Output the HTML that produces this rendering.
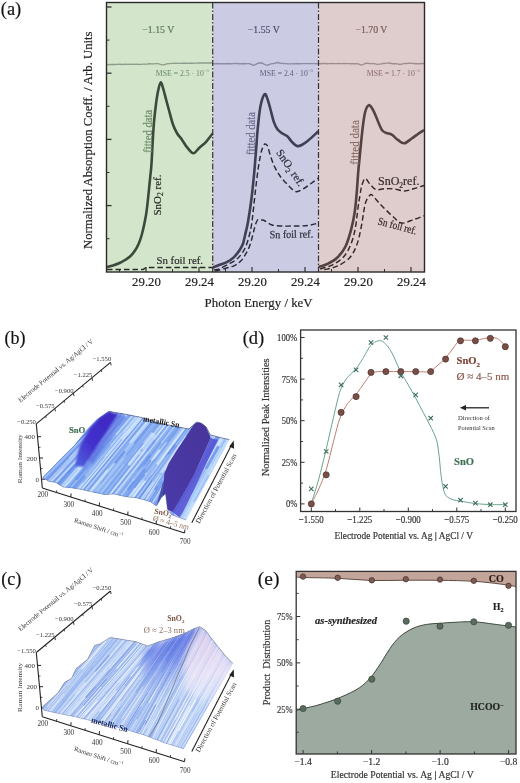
<!DOCTYPE html>
<html><head><meta charset="utf-8"><style>
html,body{margin:0;padding:0;background:#fff;}
svg{display:block;}
text{font-family:"Liberation Serif", "DejaVu Serif", serif;stroke-width:0.18px;paint-order:stroke;}
</style></head><body>
<svg width="520" height="783" viewBox="0 0 520 783">
<rect width="520" height="783" fill="#fff"/>
<rect x="106.5" y="2.5" width="106.19999999999999" height="269.5" fill="#d3e5ca"/>
<rect x="212.7" y="2.5" width="105.80000000000001" height="269.5" fill="#cbcbe3"/>
<rect x="318.5" y="2.5" width="106.0" height="269.5" fill="#dfcccd"/>
<line x1="106.5" y1="7" x2="111.5" y2="7" stroke="#333" stroke-width="1.3"/>
<line x1="106.5" y1="73.2" x2="111.5" y2="73.2" stroke="#333" stroke-width="1.3"/>
<line x1="106.5" y1="139.4" x2="111.5" y2="139.4" stroke="#333" stroke-width="1.3"/>
<line x1="106.5" y1="205.6" x2="111.5" y2="205.6" stroke="#333" stroke-width="1.3"/>
<line x1="106.5" y1="40.1" x2="109.5" y2="40.1" stroke="#333" stroke-width="1"/>
<line x1="106.5" y1="106.3" x2="109.5" y2="106.3" stroke="#333" stroke-width="1"/>
<line x1="106.5" y1="172.5" x2="109.5" y2="172.5" stroke="#333" stroke-width="1"/>
<line x1="106.5" y1="238.7" x2="109.5" y2="238.7" stroke="#333" stroke-width="1"/>
<line x1="146" y1="272" x2="146" y2="267" stroke="#333" stroke-width="1.2"/>
<line x1="199" y1="272" x2="199" y2="267" stroke="#333" stroke-width="1.2"/>
<line x1="119.5" y1="272" x2="119.5" y2="269" stroke="#333" stroke-width="1"/>
<line x1="172.5" y1="272" x2="172.5" y2="269" stroke="#333" stroke-width="1"/>
<text x="146.5" y="286" font-size="12.4" fill="#222" text-anchor="middle" font-weight="normal" font-style="normal" textLength="28.8" lengthAdjust="spacingAndGlyphs" stroke="#222">29.20</text>
<text x="199.5" y="286" font-size="12.4" fill="#222" text-anchor="middle" font-weight="normal" font-style="normal" textLength="28.8" lengthAdjust="spacingAndGlyphs" stroke="#222">29.24</text>
<line x1="252" y1="272" x2="252" y2="267" stroke="#333" stroke-width="1.2"/>
<line x1="305" y1="272" x2="305" y2="267" stroke="#333" stroke-width="1.2"/>
<line x1="225.5" y1="272" x2="225.5" y2="269" stroke="#333" stroke-width="1"/>
<line x1="278.5" y1="272" x2="278.5" y2="269" stroke="#333" stroke-width="1"/>
<text x="252.5" y="286" font-size="12.4" fill="#222" text-anchor="middle" font-weight="normal" font-style="normal" textLength="28.8" lengthAdjust="spacingAndGlyphs" stroke="#222">29.20</text>
<text x="305.5" y="286" font-size="12.4" fill="#222" text-anchor="middle" font-weight="normal" font-style="normal" textLength="28.8" lengthAdjust="spacingAndGlyphs" stroke="#222">29.24</text>
<line x1="358" y1="272" x2="358" y2="267" stroke="#333" stroke-width="1.2"/>
<line x1="411" y1="272" x2="411" y2="267" stroke="#333" stroke-width="1.2"/>
<line x1="331.5" y1="272" x2="331.5" y2="269" stroke="#333" stroke-width="1"/>
<line x1="384.5" y1="272" x2="384.5" y2="269" stroke="#333" stroke-width="1"/>
<text x="358.5" y="286" font-size="12.4" fill="#222" text-anchor="middle" font-weight="normal" font-style="normal" textLength="28.8" lengthAdjust="spacingAndGlyphs" stroke="#222">29.20</text>
<text x="411.5" y="286" font-size="12.4" fill="#222" text-anchor="middle" font-weight="normal" font-style="normal" textLength="28.8" lengthAdjust="spacingAndGlyphs" stroke="#222">29.24</text>
<text x="258.6" y="307" font-size="13" fill="#222" text-anchor="middle" font-weight="normal" font-style="normal" textLength="108" lengthAdjust="spacingAndGlyphs" stroke="#222">Photon Energy / keV</text>
<text x="92.5" y="140.2" font-size="13" fill="#222" text-anchor="middle" font-weight="normal" font-style="normal" transform="rotate(-90 92.5 140.2)" textLength="217.5" lengthAdjust="spacingAndGlyphs" stroke="#222">Normalized Absorption Coeff. / Arb. Units</text>
<text x="0.8" y="15.1" font-size="19" fill="#111" text-anchor="start" font-weight="normal" font-style="normal" textLength="20.4" lengthAdjust="spacingAndGlyphs" stroke="#111">(a)</text>
<path d="M107.0,64.5 L109.0,64.6 L111.1,64.5 L113.1,64.5 L115.1,64.5 L117.2,64.3 L119.2,64.2 L121.2,64.5 L123.3,64.3 L125.3,64.2 L127.3,64.4 L129.4,64.2 L131.4,64.3 L133.4,64.2 L135.5,64.3 L137.5,64.2 L139.5,64.4 L141.6,64.4 L143.6,64.2 L145.6,64.1 L147.7,64.0 L149.7,63.8 L151.7,63.9 L153.8,63.8 L155.8,63.7 L157.8,63.6 L159.8,64.1 L161.9,64.8 L163.9,64.9 L165.9,64.1 L168.0,63.6 L170.0,63.6 L172.0,63.3 L174.1,63.3 L176.1,63.1 L178.1,63.4 L180.2,63.4 L182.2,63.2 L184.2,63.2 L186.3,63.2 L188.3,63.4 L190.3,63.2 L192.4,63.2 L194.4,63.1 L196.4,63.1 L198.5,63.0 L200.5,63.0 L202.5,63.0 L204.6,63.0 L206.6,63.0 L208.6,62.9 L210.7,63.0 L212.7,62.9" fill="none" stroke="#8f9c8c" stroke-width="1.35"/>
<path d="M212.7,63.7 L214.7,63.7 L216.8,63.5 L218.8,63.7 L220.8,63.7 L222.9,63.7 L224.9,63.6 L226.9,63.7 L229.0,63.5 L231.0,63.7 L233.0,63.6 L235.1,63.5 L237.1,63.5 L239.1,63.7 L241.2,63.7 L243.2,63.5 L245.3,63.7 L247.3,63.6 L249.3,63.7 L251.4,64.5 L253.4,65.3 L255.4,64.7 L257.5,63.5 L259.5,63.0 L261.5,62.8 L263.6,63.8 L265.6,64.8 L267.6,65.2 L269.7,64.4 L271.7,63.7 L273.7,63.6 L275.8,62.9 L277.8,62.5 L279.8,63.0 L281.9,63.3 L283.9,63.5 L285.9,63.6 L288.0,63.8 L290.0,63.8 L292.1,63.7 L294.1,63.8 L296.1,63.5 L298.2,63.7 L300.2,63.7 L302.2,63.6 L304.3,63.6 L306.3,63.6 L308.3,63.6 L310.4,63.6 L312.4,63.6 L314.4,63.6 L316.5,63.7 L318.5,63.6" fill="none" stroke="#8c8ca6" stroke-width="1.35"/>
<path d="M318.5,63.6 L320.5,63.7 L322.6,63.5 L324.6,63.5 L326.6,63.7 L328.6,63.6 L330.7,63.6 L332.7,63.5 L334.7,63.6 L336.8,63.6 L338.8,63.5 L340.8,63.6 L342.8,63.6 L344.9,63.5 L346.9,63.6 L348.9,63.6 L351.0,63.7 L353.0,63.6 L355.0,63.7 L357.0,63.7 L359.1,64.1 L361.1,65.0 L363.1,64.6 L365.2,63.5 L367.2,63.1 L369.2,63.5 L371.2,63.6 L373.3,63.6 L375.3,63.9 L377.3,64.3 L379.4,64.2 L381.4,63.8 L383.4,63.5 L385.5,63.3 L387.5,63.1 L389.5,63.0 L391.5,63.5 L393.6,63.7 L395.6,63.6 L397.6,63.9 L399.7,64.5 L401.7,64.1 L403.7,63.7 L405.7,63.5 L407.8,63.4 L409.8,63.1 L411.8,63.3 L413.9,63.5 L415.9,63.7 L417.9,63.6 L419.9,63.7 L422.0,63.5 L424.0,63.6" fill="none" stroke="#a08c8c" stroke-width="1.35"/>
<text x="158.3" y="32.5" font-size="9.8" fill="#5d7a5a" text-anchor="middle" font-weight="normal" font-style="normal" stroke="#5d7a5a">−1.15 V</text>
<text x="263.8" y="32.5" font-size="9.8" fill="#4d4d6e" text-anchor="middle" font-weight="normal" font-style="normal" stroke="#4d4d6e">−1.55 V</text>
<text x="371.4" y="32.5" font-size="9.8" fill="#7d5d5d" text-anchor="middle" font-weight="normal" font-style="normal" stroke="#7d5d5d">−1.70 V</text>
<text x="155.8" y="75.8" font-size="8.2" fill="#6a8a68" textLength="53" lengthAdjust="spacingAndGlyphs">MSE = 2.5 · 10<tspan dy="-3.5" font-size="5">−5</tspan></text>
<text x="259.8" y="75.8" font-size="8.2" fill="#5e5e80" textLength="53" lengthAdjust="spacingAndGlyphs">MSE = 2.4 · 10<tspan dy="-3.5" font-size="5">−5</tspan></text>
<text x="366.8" y="75.8" font-size="8.2" fill="#8a6a6a" textLength="53" lengthAdjust="spacingAndGlyphs">MSE = 1.7 · 10<tspan dy="-3.5" font-size="5">−5</tspan></text>
<path d="M107.0,267.0 C108.0,266.8 111.0,266.1 113.0,265.5 C115.0,264.9 117.0,264.2 119.0,263.3 C121.0,262.4 123.1,261.2 125.0,260.0 C126.9,258.8 128.6,257.9 130.3,256.3 C132.0,254.7 133.6,252.6 135.0,250.5 C136.4,248.4 137.6,246.3 138.7,243.7 C139.8,241.1 140.8,238.3 141.7,235.0 C142.6,231.7 143.6,227.3 144.3,224.0 C145.0,220.7 145.5,217.8 146.0,215.0 C146.5,212.2 146.7,210.3 147.1,207.1 C147.5,203.9 147.9,199.5 148.3,196.0 C148.7,192.5 149.0,189.5 149.3,186.0 C149.7,182.5 150.1,178.5 150.4,175.0 C150.8,171.5 151.1,170.0 151.4,165.0 C151.8,160.0 152.1,152.2 152.5,145.0 C152.9,137.8 153.4,128.8 154.0,122.0 C154.6,115.2 155.3,109.3 156.0,104.0 C156.7,98.7 157.5,93.6 158.3,90.0 C159.1,86.4 160.0,82.5 160.8,82.3 C161.6,82.1 162.4,86.0 163.3,89.0 C164.2,92.0 165.2,96.3 166.2,100.0 C167.2,103.7 168.1,106.9 169.2,111.0 C170.3,115.1 171.7,120.8 173.0,124.5 C174.3,128.2 175.4,130.4 176.9,133.0 C178.4,135.6 180.4,137.5 182.1,139.9 C183.8,142.3 185.4,145.5 187.3,147.7 C189.2,149.9 191.4,153.3 193.4,153.3 C195.4,153.3 197.2,149.6 199.4,147.7 C201.6,145.8 204.1,144.0 206.3,141.6 C208.5,139.2 211.6,134.8 212.7,133.5" fill="none" stroke="#3c4a3c" stroke-width="2.6" stroke-linejoin="round"/>
<path d="M107,269.5 L143,269.5 L146,267.5 L212.7,267.5" fill="none" stroke="#2a2a2a" stroke-width="1.45" stroke-dasharray="5.5,3"/>
<text x="151.6" y="131.2" font-size="13.5" fill="#6c8a68" text-anchor="middle" font-weight="normal" font-style="normal" transform="rotate(-90 151.6 131.2)" textLength="43" lengthAdjust="spacingAndGlyphs" stroke="#6c8a68">fitted data</text>
<text x="160.8" y="195" font-size="11" fill="#2a2a2a" text-anchor="middle" transform="rotate(-90 160.8 195)" stroke="#2a2a2a">SnO<tspan dy="2.5" font-size="7.5">2</tspan><tspan dy="-2.5"> ref.</tspan></text>
<text x="156.5" y="263.5" font-size="10.8" fill="#2a2a2a" text-anchor="start" font-weight="normal" font-style="normal" stroke="#2a2a2a">Sn foil ref.</text>
<path d="M212.7,267.5 C213.8,267.1 217.2,265.7 219.6,264.8 C222.0,263.9 224.9,263.2 227.3,261.9 C229.7,260.6 232.1,258.9 234.0,257.1 C235.9,255.3 237.4,253.4 238.8,251.3 C240.2,249.2 241.6,247.3 242.7,244.6 C243.8,241.9 244.2,238.8 245.1,235.0 C246.0,231.2 247.0,227.8 248.0,222.0 C249.0,216.2 250.3,207.8 251.3,200.0 C252.3,192.2 253.2,183.3 254.0,175.0 C254.8,166.7 255.5,157.5 256.1,150.0 C256.7,142.5 256.9,137.3 257.6,130.0 C258.3,122.7 259.3,112.0 260.5,106.0 C261.7,100.0 263.5,95.5 264.6,94.2 C265.7,93.0 266.4,96.3 267.3,98.5 C268.2,100.7 268.9,103.6 270.0,107.5 C271.1,111.4 272.5,118.2 273.8,121.9 C275.1,125.6 276.2,127.7 277.7,129.6 C279.1,131.5 280.9,132.4 282.5,133.5 C284.1,134.6 285.7,134.9 287.3,136.3 C288.9,137.7 290.5,140.5 292.1,142.1 C293.7,143.7 295.3,145.5 296.9,146.0 C298.5,146.5 299.8,146.0 301.7,145.0 C303.6,144.0 305.7,142.5 308.5,140.2 C311.3,137.9 316.8,132.7 318.5,131.2" fill="none" stroke="#404054" stroke-width="2.6" stroke-linejoin="round"/>
<path d="M214.0,270.0 C214.9,269.8 217.1,269.7 219.6,268.7 C222.1,267.7 226.3,265.4 229.2,263.8 C232.1,262.2 234.7,260.9 236.9,259.0 C239.2,257.1 241.1,254.7 242.7,252.3 C244.3,249.9 245.4,247.5 246.5,244.6 C247.6,241.7 248.6,238.3 249.4,235.0 C250.2,231.7 250.9,228.5 251.5,225.0 C252.1,221.5 252.2,219.6 252.9,213.8 C253.6,208.0 254.7,197.3 255.5,190.0 C256.4,182.7 257.2,175.8 258.0,170.0 C258.8,164.2 259.8,158.7 260.5,155.0 C261.2,151.3 261.8,149.8 262.5,148.0 C263.2,146.2 264.0,144.3 264.8,144.0 C265.6,143.7 266.6,144.0 267.5,146.0 C268.4,148.0 269.3,152.5 270.5,156.0 C271.7,159.5 273.0,163.5 274.6,166.8 C276.2,170.1 277.9,173.1 280.0,176.0 C282.1,178.9 284.4,181.4 287.0,184.0 C289.6,186.6 293.0,190.7 295.7,191.5 C298.4,192.3 300.4,190.3 303.0,189.0 C305.6,187.7 308.4,185.3 311.0,183.5 C313.6,181.7 317.2,178.9 318.5,178.0" fill="none" stroke="#2a2a35" stroke-width="1.45" stroke-dasharray="5.5,3"/>
<path d="M215.0,271.0 C215.9,270.8 217.4,270.5 220.6,269.6 C223.8,268.7 230.6,267.2 234.0,265.8 C237.4,264.4 238.9,262.9 240.8,261.0 C242.7,259.1 244.2,256.6 245.6,254.2 C247.0,251.8 248.3,249.4 249.4,246.5 C250.5,243.6 251.5,240.1 252.3,237.0 C253.2,233.9 253.7,230.7 254.5,228.0 C255.3,225.3 256.1,222.4 256.9,221.0 C257.6,219.6 258.1,219.7 259.0,219.5 C259.9,219.3 261.0,219.8 262.0,220.0 C263.0,220.2 263.3,220.2 265.0,221.0 C266.7,221.8 269.2,224.2 272.0,225.0 C274.8,225.8 278.2,225.8 282.0,226.0 C285.8,226.2 290.7,226.1 295.0,226.0 C299.3,225.9 304.1,226.0 308.0,225.5 C311.9,225.0 316.8,223.4 318.5,223.0" fill="none" stroke="#2a2a35" stroke-width="1.45" stroke-dasharray="5.5,3"/>
<text x="254.8" y="133.5" font-size="13.5" fill="#6a6a8a" text-anchor="middle" font-weight="normal" font-style="normal" transform="rotate(-90 254.8 133.5)" textLength="43" lengthAdjust="spacingAndGlyphs" stroke="#6a6a8a">fitted data</text>
<text x="275.8" y="152.5" font-size="11.2" fill="#2a2a35" transform="rotate(56 275.8 152.5)" stroke="#2a2a35">SnO<tspan dy="2.5" font-size="7.5">2</tspan><tspan dy="-2.5"> ref.</tspan></text>
<text x="269.7" y="238.3" font-size="11" fill="#2a2a35" text-anchor="start" font-weight="normal" font-style="normal" transform="rotate(-1 269.7 238.3)" textLength="43.5" lengthAdjust="spacingAndGlyphs" stroke="#2a2a35">Sn foil ref.</text>
<path d="M318.5,267.0 C319.9,266.5 324.1,265.6 327.2,264.0 C330.3,262.4 334.1,260.6 337.1,257.7 C340.2,254.8 343.2,251.2 345.5,246.5 C347.8,241.8 349.6,235.2 351.1,229.6 C352.6,224.0 353.7,218.9 354.6,212.8 C355.5,206.7 356.1,200.2 356.7,193.1 C357.3,186.0 357.9,175.5 358.4,170.0 C358.8,164.5 358.8,166.4 359.4,159.9 C360.0,153.4 361.4,139.0 362.3,131.1 C363.2,123.2 364.0,116.6 365.1,112.3 C366.2,108.0 367.6,105.6 368.8,105.1 C370.0,104.5 371.3,107.1 372.5,109.0 C373.7,110.9 374.5,113.2 376.0,116.6 C377.5,120.0 380.0,126.9 381.7,129.6 C383.4,132.3 384.3,132.0 386.0,132.8 C387.7,133.7 389.9,133.5 391.8,134.7 C393.7,135.8 395.6,138.3 397.6,139.7 C399.7,141.1 401.7,143.5 404.1,143.3 C406.5,143.1 409.7,139.9 412.0,138.3 C414.3,136.8 416.0,135.4 418.0,134.0 C420.0,132.6 423.0,130.7 424.0,130.0" fill="none" stroke="#524242" stroke-width="2.6" stroke-linejoin="round"/>
<path d="M320.2,269.0 C322.3,268.3 328.9,266.8 332.9,264.7 C336.9,262.6 341.1,259.8 344.1,256.3 C347.1,252.8 349.2,248.4 351.1,243.7 C353.0,239.0 354.1,234.3 355.3,228.2 C356.5,222.1 357.3,212.6 358.1,207.1 C358.9,201.6 359.4,198.5 360.0,195.0 C360.6,191.5 360.8,188.8 361.7,186.0 C362.6,183.2 363.7,178.7 365.1,178.4 C366.5,178.1 368.4,182.6 370.2,184.4 C372.0,186.2 373.6,188.8 376.0,189.5 C378.4,190.2 381.7,188.9 384.6,188.8 C387.5,188.7 389.9,188.5 393.3,188.8 C396.7,189.2 401.4,190.9 404.8,190.9 C408.2,190.9 410.3,189.7 413.5,188.8 C416.7,187.9 422.2,186.1 424.0,185.5" fill="none" stroke="#352828" stroke-width="1.45" stroke-dasharray="5.5,3"/>
<path d="M324.4,269.7 C326.5,269.1 332.9,268.2 337.1,266.2 C341.3,264.2 346.4,261.2 349.7,257.7 C353.0,254.2 354.8,250.0 356.7,245.1 C358.6,240.2 359.7,234.5 361.0,228.2 C362.3,221.9 363.6,211.8 364.5,207.1 C365.4,202.4 365.6,202.2 366.6,200.1 C367.7,198.0 369.6,195.0 370.8,194.5 C372.0,194.0 372.6,195.6 374.0,197.0 C375.4,198.4 377.0,200.8 379.0,203.0 C381.0,205.2 383.5,207.6 386.0,210.0 C388.5,212.4 391.4,215.3 394.0,217.5 C396.6,219.7 398.6,222.8 401.9,223.1 C405.1,223.4 409.8,220.8 413.5,219.6 C417.2,218.4 422.2,216.4 424.0,215.8" fill="none" stroke="#352828" stroke-width="1.45" stroke-dasharray="5.5,3"/>
<text x="359.4" y="142.4" font-size="13.5" fill="#8a6a66" text-anchor="middle" font-weight="normal" font-style="normal" transform="rotate(-90 359.4 142.4)" textLength="44.5" lengthAdjust="spacingAndGlyphs" stroke="#8a6a66">fitted data</text>
<text x="378" y="185.3" font-size="12" fill="#352828" stroke="#352828">SnO<tspan dy="2.5" font-size="7.5">2</tspan><tspan dy="-2.5">ref.</tspan></text>
<text x="377.2" y="224.2" font-size="11" fill="#352828" text-anchor="start" font-weight="normal" font-style="normal" transform="rotate(15 377.2 224.2)" textLength="40" lengthAdjust="spacingAndGlyphs" stroke="#352828">Sn foil ref.</text>
<line x1="212.7" y1="2.5" x2="212.7" y2="272" stroke="#333" stroke-width="1.2" stroke-dasharray="6,2,1.5,2"/>
<line x1="318.5" y1="2.5" x2="318.5" y2="272" stroke="#333" stroke-width="1.2" stroke-dasharray="6,2,1.5,2"/>
<rect x="106.5" y="2.5" width="318.0" height="269.5" fill="none" stroke="#2a2a2a" stroke-width="1.4"/>
<rect x="300.6" y="330" width="215.39999999999998" height="181.5" fill="#fff" stroke="none"/>
<line x1="300.6" y1="503.9" x2="304.6" y2="503.9" stroke="#333" stroke-width="1"/>
<text x="297.3" y="507.4" font-size="9.9" fill="#333" text-anchor="end" font-weight="normal" font-style="normal" textLength="11.4" lengthAdjust="spacingAndGlyphs" stroke="#333">0%</text>
<line x1="300.6" y1="462.3" x2="304.6" y2="462.3" stroke="#333" stroke-width="1"/>
<text x="297.3" y="465.79999999999995" font-size="9.9" fill="#333" text-anchor="end" font-weight="normal" font-style="normal" textLength="15.6" lengthAdjust="spacingAndGlyphs" stroke="#333">25%</text>
<line x1="300.6" y1="420.7" x2="304.6" y2="420.7" stroke="#333" stroke-width="1"/>
<text x="297.3" y="424.2" font-size="9.9" fill="#333" text-anchor="end" font-weight="normal" font-style="normal" textLength="15.6" lengthAdjust="spacingAndGlyphs" stroke="#333">50%</text>
<line x1="300.6" y1="379.1" x2="304.6" y2="379.1" stroke="#333" stroke-width="1"/>
<text x="297.3" y="382.6" font-size="9.9" fill="#333" text-anchor="end" font-weight="normal" font-style="normal" textLength="15.6" lengthAdjust="spacingAndGlyphs" stroke="#333">75%</text>
<line x1="300.6" y1="337.5" x2="304.6" y2="337.5" stroke="#333" stroke-width="1"/>
<text x="297.3" y="341.0" font-size="9.9" fill="#333" text-anchor="end" font-weight="normal" font-style="normal" textLength="20.2" lengthAdjust="spacingAndGlyphs" stroke="#333">100%</text>
<line x1="300.6" y1="483.1" x2="303.1" y2="483.1" stroke="#333" stroke-width="0.9"/>
<line x1="300.6" y1="441.5" x2="303.1" y2="441.5" stroke="#333" stroke-width="0.9"/>
<line x1="300.6" y1="399.9" x2="303.1" y2="399.9" stroke="#333" stroke-width="0.9"/>
<line x1="300.6" y1="358.3" x2="303.1" y2="358.3" stroke="#333" stroke-width="0.9"/>
<line x1="311.3" y1="511.5" x2="311.3" y2="507.5" stroke="#333" stroke-width="1"/>
<text x="311.3" y="523.3" font-size="10" fill="#333" text-anchor="middle" font-weight="normal" font-style="normal" textLength="25" lengthAdjust="spacingAndGlyphs" stroke="#333">−1.550</text>
<line x1="359.8" y1="511.5" x2="359.8" y2="507.5" stroke="#333" stroke-width="1"/>
<text x="359.8" y="523.3" font-size="10" fill="#333" text-anchor="middle" font-weight="normal" font-style="normal" textLength="25" lengthAdjust="spacingAndGlyphs" stroke="#333">−1.225</text>
<line x1="408.3" y1="511.5" x2="408.3" y2="507.5" stroke="#333" stroke-width="1"/>
<text x="408.3" y="523.3" font-size="10" fill="#333" text-anchor="middle" font-weight="normal" font-style="normal" textLength="25" lengthAdjust="spacingAndGlyphs" stroke="#333">−0.900</text>
<line x1="456.8" y1="511.5" x2="456.8" y2="507.5" stroke="#333" stroke-width="1"/>
<text x="456.8" y="523.3" font-size="10" fill="#333" text-anchor="middle" font-weight="normal" font-style="normal" textLength="25" lengthAdjust="spacingAndGlyphs" stroke="#333">−0.575</text>
<line x1="505.3" y1="511.5" x2="505.3" y2="507.5" stroke="#333" stroke-width="1"/>
<text x="505.3" y="523.3" font-size="10" fill="#333" text-anchor="middle" font-weight="normal" font-style="normal" textLength="25" lengthAdjust="spacingAndGlyphs" stroke="#333">−0.250</text>
<line x1="335.5" y1="511.5" x2="335.5" y2="509.0" stroke="#333" stroke-width="0.9"/>
<line x1="384.0" y1="511.5" x2="384.0" y2="509.0" stroke="#333" stroke-width="0.9"/>
<line x1="432.5" y1="511.5" x2="432.5" y2="509.0" stroke="#333" stroke-width="0.9"/>
<line x1="481.0" y1="511.5" x2="481.0" y2="509.0" stroke="#333" stroke-width="0.9"/>
<text x="403.7" y="539" font-size="9.8" fill="#333" text-anchor="middle" font-weight="normal" font-style="normal" textLength="138.5" lengthAdjust="spacingAndGlyphs" stroke="#333">Electrode Potential vs. Ag <tspan font-weight="bold">|</tspan> AgCl / V</text>
<text x="269.5" y="417.3" font-size="10.8" fill="#333" text-anchor="middle" font-weight="normal" font-style="normal" transform="rotate(-90 269.5 417.3)" textLength="118" lengthAdjust="spacingAndGlyphs" stroke="#333">Normalized Peak Intensities</text>
<text x="242.7" y="343.6" font-size="19" fill="#111" text-anchor="start" font-weight="normal" font-style="normal" textLength="21.6" lengthAdjust="spacingAndGlyphs" stroke="#111">(d)</text>
<path d="M311.3,503.7 C312.5,499.6 316.4,487.6 318.8,478.9 C321.1,470.3 323.1,462.1 325.6,451.7 C328.1,441.3 331.3,426.4 333.7,416.5 C336.0,406.7 337.7,398.5 339.6,392.4 C341.6,386.3 343.6,383.1 345.6,379.9 C347.6,376.7 349.6,375.5 351.6,373.3 C353.6,371.1 355.6,369.3 357.6,366.6 C359.5,364.0 361.3,361.0 363.5,357.5 C365.7,353.9 368.3,348.1 370.8,345.3 C373.3,342.5 376.2,341.2 378.4,340.8 C380.7,340.4 382.1,340.8 384.4,342.8 C386.7,344.8 389.4,348.3 392.0,353.0 C394.6,357.6 397.4,365.5 400.1,370.8 C402.8,376.1 405.7,380.3 408.3,384.9 C410.9,389.5 413.3,393.7 415.7,398.2 C418.2,402.8 420.9,407.9 423.2,412.4 C425.5,416.8 427.6,420.5 429.8,425.0 C432.0,429.6 434.9,434.6 436.5,439.8 C438.0,445.1 438.4,450.7 439.2,456.5 C439.9,462.3 440.3,469.8 441.0,474.8 C441.6,479.8 442.1,483.0 442.9,486.4 C443.7,489.9 444.2,493.4 445.9,495.6 C447.6,497.8 450.6,498.8 453.0,499.7 C455.5,500.7 456.8,500.4 460.5,501.1 C464.2,501.7 470.4,503.0 475.4,503.6 C480.4,504.1 485.4,504.4 490.3,504.6 C495.3,504.7 502.8,504.6 505.3,504.6" fill="none" stroke="#6aa48a" stroke-width="1"/>
<path d="M311.3,503.9 C312.5,501.4 316.3,494.6 318.8,488.9 C321.2,483.2 323.7,477.8 326.2,469.8 C328.7,461.7 331.4,449.1 333.7,440.7 C335.9,432.2 337.7,424.7 339.6,419.0 C341.6,413.4 343.6,409.9 345.6,406.6 C347.6,403.2 349.6,401.4 351.6,399.1 C353.6,396.7 355.6,394.9 357.6,392.4 C359.5,389.9 361.3,387.1 363.5,384.1 C365.8,381.0 368.5,376.2 371.0,374.1 C373.5,372.0 374.7,372.0 378.4,371.6 C382.2,371.2 388.4,371.6 393.4,371.6 C398.3,371.6 403.3,371.6 408.3,371.6 C413.3,371.6 419.6,371.8 423.2,371.8 C426.8,371.8 427.3,372.7 429.8,371.6 C432.2,370.5 435.4,367.2 438.0,365.0 C440.6,362.7 443.0,361.0 445.4,358.3 C447.9,355.6 450.3,351.7 452.7,348.8 C455.2,345.9 456.4,342.3 460.2,340.8 C464.0,339.4 470.5,340.7 475.6,340.2 C480.6,339.6 486.5,337.6 490.3,337.5 C494.2,337.4 496.1,337.9 498.5,339.3 C501.0,340.8 504.1,345.0 505.3,346.2" fill="none" stroke="#c07e6e" stroke-width="1"/>
<circle cx="311.3" cy="503.9" r="3.1" fill="#7a4e46" stroke="#3d2a26" stroke-width="0.6"/>
<circle cx="326.2" cy="474.8" r="3.1" fill="#7a4e46" stroke="#3d2a26" stroke-width="0.6"/>
<circle cx="341.1" cy="412.4" r="3.1" fill="#7a4e46" stroke="#3d2a26" stroke-width="0.6"/>
<circle cx="356.1" cy="396.6" r="3.1" fill="#7a4e46" stroke="#3d2a26" stroke-width="0.6"/>
<circle cx="371.0" cy="372.4" r="3.1" fill="#7a4e46" stroke="#3d2a26" stroke-width="0.6"/>
<circle cx="385.9" cy="371.6" r="3.1" fill="#7a4e46" stroke="#3d2a26" stroke-width="0.6"/>
<circle cx="400.8" cy="371.6" r="3.1" fill="#7a4e46" stroke="#3d2a26" stroke-width="0.6"/>
<circle cx="415.7" cy="371.6" r="3.1" fill="#7a4e46" stroke="#3d2a26" stroke-width="0.6"/>
<circle cx="430.7" cy="371.6" r="3.1" fill="#7a4e46" stroke="#3d2a26" stroke-width="0.6"/>
<circle cx="445.6" cy="359.1" r="3.1" fill="#7a4e46" stroke="#3d2a26" stroke-width="0.6"/>
<circle cx="460.5" cy="340.8" r="3.1" fill="#7a4e46" stroke="#3d2a26" stroke-width="0.6"/>
<circle cx="475.4" cy="340.8" r="3.1" fill="#7a4e46" stroke="#3d2a26" stroke-width="0.6"/>
<circle cx="490.3" cy="338.3" r="3.1" fill="#7a4e46" stroke="#3d2a26" stroke-width="0.6"/>
<circle cx="505.3" cy="346.7" r="3.1" fill="#7a4e46" stroke="#3d2a26" stroke-width="0.6"/>
<path d="M309.1,486.7 L313.5,491.1 M309.1,491.1 L313.5,486.7" stroke="#3e6e5a" stroke-width="1.1"/>
<path d="M324.0,449.3 L328.4,453.7 M324.0,453.7 L328.4,449.3" stroke="#3e6e5a" stroke-width="1.1"/>
<path d="M338.9,382.7 L343.3,387.1 M338.9,387.1 L343.3,382.7" stroke="#3e6e5a" stroke-width="1.1"/>
<path d="M353.9,367.7 L358.3,372.1 M353.9,372.1 L358.3,367.7" stroke="#3e6e5a" stroke-width="1.1"/>
<path d="M368.8,340.3 L373.2,344.7 M368.8,344.7 L373.2,340.3" stroke="#3e6e5a" stroke-width="1.1"/>
<path d="M383.7,335.3 L388.1,339.7 M383.7,339.7 L388.1,335.3" stroke="#3e6e5a" stroke-width="1.1"/>
<path d="M398.6,373.6 L403.0,378.0 M398.6,378.0 L403.0,373.6" stroke="#3e6e5a" stroke-width="1.1"/>
<path d="M413.5,392.7 L417.9,397.1 M413.5,397.1 L417.9,392.7" stroke="#3e6e5a" stroke-width="1.1"/>
<path d="M428.5,416.0 L432.9,420.4 M428.5,420.4 L432.9,416.0" stroke="#3e6e5a" stroke-width="1.1"/>
<path d="M443.4,484.2 L447.8,488.6 M443.4,488.6 L447.8,484.2" stroke="#3e6e5a" stroke-width="1.1"/>
<path d="M458.3,498.0 L462.7,502.4 M458.3,502.4 L462.7,498.0" stroke="#3e6e5a" stroke-width="1.1"/>
<path d="M473.2,500.9 L477.6,505.3 M473.2,505.3 L477.6,500.9" stroke="#3e6e5a" stroke-width="1.1"/>
<path d="M488.1,502.5 L492.5,506.9 M488.1,506.9 L492.5,502.5" stroke="#3e6e5a" stroke-width="1.1"/>
<path d="M503.1,502.5 L507.5,506.9 M503.1,506.9 L507.5,502.5" stroke="#3e6e5a" stroke-width="1.1"/>
<rect x="300.6" y="330" width="215.39999999999998" height="181.5" fill="none" stroke="#333" stroke-width="1.3"/>
<text x="456.5" y="364" font-size="10.6" fill="#7a3e32" font-weight="bold" stroke="#7a3e32">SnO<tspan dy="2.5" font-size="7">2</tspan></text>
<text x="456.5" y="379.5" font-size="11" fill="#8a5a4e" text-anchor="start" font-weight="normal" font-style="normal" stroke="#8a5a4e">Ø ≈ 4–5 nm</text>
<line x1="489" y1="407.8" x2="464" y2="407.8" stroke="#222" stroke-width="1.3"/>
<path d="M459.8,407.8 L466,405 L466,410.6 Z" fill="#222"/>
<text x="458" y="420" font-size="6.6" fill="#333" text-anchor="start" font-weight="normal" font-style="normal">Direction of</text>
<text x="458" y="429.8" font-size="6.4" fill="#333" text-anchor="start" font-weight="normal" font-style="normal">Potential Scan</text>
<text x="454" y="465" font-size="10.6" fill="#3e6e54" text-anchor="start" font-weight="bold" font-style="normal" stroke="#3e6e54">SnO</text>
<rect x="296.2" y="571.4" width="219.8" height="182.60000000000002" fill="#fff"/>
<path d="M296.2,577.0 C297.3,577.1 296.1,577.3 303.0,577.5 C309.9,577.7 326.2,577.8 337.7,578.3 C349.2,578.8 360.4,580.2 371.8,580.5 C383.2,580.8 394.4,580.2 405.8,580.2 C417.2,580.2 428.7,580.1 440.0,580.3 C451.3,580.5 463.8,580.7 473.8,581.3 C483.8,581.9 493.0,583.1 500.0,584.0 C507.0,584.9 513.3,586.1 516.0,586.5 L516,571.4 L296.2,571.4 Z" fill="#c4a59a"/>
<path d="M296.2,577.0 C297.3,577.1 296.1,577.3 303.0,577.5 C309.9,577.7 326.2,577.8 337.7,578.3 C349.2,578.8 360.4,580.2 371.8,580.5 C383.2,580.8 394.4,580.2 405.8,580.2 C417.2,580.2 428.7,580.1 440.0,580.3 C451.3,580.5 463.8,580.7 473.8,581.3 C483.8,581.9 493.0,583.1 500.0,584.0 C507.0,584.9 513.3,586.1 516.0,586.5" fill="none" stroke="#5e4a44" stroke-width="1"/>
<path d="M296.2,710.5 C297.4,710.2 299.1,709.6 303.1,708.6 C307.1,707.6 313.9,706.4 320.0,704.5 C326.1,702.6 333.5,700.3 340.0,697.5 C346.5,694.7 354.1,691.3 359.2,687.9 C364.3,684.5 367.3,681.3 370.8,677.3 C374.3,673.3 377.2,668.6 380.4,663.8 C383.6,659.0 386.8,653.0 390.0,648.5 C393.2,644.0 395.8,640.3 399.6,636.9 C403.4,633.5 408.5,630.4 413.0,628.3 C417.5,626.2 422.0,625.2 426.5,624.4 C431.0,623.6 435.2,623.6 440.0,623.3 C444.8,622.9 449.4,622.5 455.0,622.3 C460.6,622.0 467.1,621.5 473.8,621.8 C480.5,622.1 488.0,623.4 495.0,624.3 C502.0,625.2 512.5,626.5 516.0,627.0 L516,754 L296.2,754 Z" fill="#9caa9f"/>
<path d="M296.2,710.5 C297.4,710.2 299.1,709.6 303.1,708.6 C307.1,707.6 313.9,706.4 320.0,704.5 C326.1,702.6 333.5,700.3 340.0,697.5 C346.5,694.7 354.1,691.3 359.2,687.9 C364.3,684.5 367.3,681.3 370.8,677.3 C374.3,673.3 377.2,668.6 380.4,663.8 C383.6,659.0 386.8,653.0 390.0,648.5 C393.2,644.0 395.8,640.3 399.6,636.9 C403.4,633.5 408.5,630.4 413.0,628.3 C417.5,626.2 422.0,625.2 426.5,624.4 C431.0,623.6 435.2,623.6 440.0,623.3 C444.8,622.9 449.4,622.5 455.0,622.3 C460.6,622.0 467.1,621.5 473.8,621.8 C480.5,622.1 488.0,623.4 495.0,624.3 C502.0,625.2 512.5,626.5 516.0,627.0" fill="none" stroke="#3e4a40" stroke-width="1"/>
<circle cx="303" cy="576.6" r="2.7" fill="#7e5a52" stroke="#4a3430" stroke-width="0.8"/>
<circle cx="337.7" cy="577.8" r="2.7" fill="#7e5a52" stroke="#4a3430" stroke-width="0.8"/>
<circle cx="371.8" cy="580.3" r="2.7" fill="#7e5a52" stroke="#4a3430" stroke-width="0.8"/>
<circle cx="405.8" cy="579.2" r="2.7" fill="#7e5a52" stroke="#4a3430" stroke-width="0.8"/>
<circle cx="440" cy="579.6" r="2.7" fill="#7e5a52" stroke="#4a3430" stroke-width="0.8"/>
<circle cx="473.8" cy="580.8" r="2.7" fill="#7e5a52" stroke="#4a3430" stroke-width="0.8"/>
<circle cx="508.5" cy="585.8" r="2.7" fill="#7e5a52" stroke="#4a3430" stroke-width="0.8"/>
<circle cx="303.1" cy="708.5" r="3.1" fill="#5b6b5e" stroke="#3a463c" stroke-width="0.7"/>
<circle cx="337.7" cy="701.2" r="3.1" fill="#5b6b5e" stroke="#3a463c" stroke-width="0.7"/>
<circle cx="371.8" cy="679.2" r="3.1" fill="#5b6b5e" stroke="#3a463c" stroke-width="0.7"/>
<circle cx="406.2" cy="621.2" r="3.1" fill="#5b6b5e" stroke="#3a463c" stroke-width="0.7"/>
<circle cx="440" cy="626.2" r="3.1" fill="#5b6b5e" stroke="#3a463c" stroke-width="0.7"/>
<circle cx="473.8" cy="621.8" r="3.1" fill="#5b6b5e" stroke="#3a463c" stroke-width="0.7"/>
<circle cx="508.5" cy="625.3" r="3.1" fill="#5b6b5e" stroke="#3a463c" stroke-width="0.7"/>
<line x1="296.2" y1="709.2" x2="300.2" y2="709.2" stroke="#333" stroke-width="1"/>
<text x="292.6" y="712.675" font-size="9.9" fill="#333" text-anchor="end" font-weight="normal" font-style="normal" textLength="15.6" lengthAdjust="spacingAndGlyphs" stroke="#333">25%</text>
<line x1="296.2" y1="662.9" x2="300.2" y2="662.9" stroke="#333" stroke-width="1"/>
<text x="292.6" y="666.35" font-size="9.9" fill="#333" text-anchor="end" font-weight="normal" font-style="normal" textLength="15.6" lengthAdjust="spacingAndGlyphs" stroke="#333">50%</text>
<line x1="296.2" y1="616.5" x2="300.2" y2="616.5" stroke="#333" stroke-width="1"/>
<text x="292.6" y="620.0250000000001" font-size="9.9" fill="#333" text-anchor="end" font-weight="normal" font-style="normal" textLength="15.6" lengthAdjust="spacingAndGlyphs" stroke="#333">75%</text>
<line x1="296.2" y1="732.3" x2="298.7" y2="732.3" stroke="#333" stroke-width="0.9"/>
<line x1="296.2" y1="686.0" x2="298.7" y2="686.0" stroke="#333" stroke-width="0.9"/>
<line x1="296.2" y1="639.7" x2="298.7" y2="639.7" stroke="#333" stroke-width="0.9"/>
<line x1="296.2" y1="593.4" x2="298.7" y2="593.4" stroke="#333" stroke-width="0.9"/>
<line x1="303.1" y1="754" x2="303.1" y2="750" stroke="#333" stroke-width="1"/>
<text x="303.1" y="764.5" font-size="9.6" fill="#333" text-anchor="middle" font-weight="normal" font-style="normal" stroke="#333">−1.4</text>
<line x1="337.4" y1="754" x2="337.4" y2="751.5" stroke="#333" stroke-width="1"/>
<line x1="371.6" y1="754" x2="371.6" y2="750" stroke="#333" stroke-width="1"/>
<text x="371.6" y="764.5" font-size="9.6" fill="#333" text-anchor="middle" font-weight="normal" font-style="normal" stroke="#333">−1.2</text>
<line x1="405.9" y1="754" x2="405.9" y2="751.5" stroke="#333" stroke-width="1"/>
<line x1="440.1" y1="754" x2="440.1" y2="750" stroke="#333" stroke-width="1"/>
<text x="440.1" y="764.5" font-size="9.6" fill="#333" text-anchor="middle" font-weight="normal" font-style="normal" stroke="#333">−1.0</text>
<line x1="474.4" y1="754" x2="474.4" y2="751.5" stroke="#333" stroke-width="1"/>
<line x1="508.6" y1="754" x2="508.6" y2="750" stroke="#333" stroke-width="1"/>
<text x="508.6" y="764.5" font-size="9.6" fill="#333" text-anchor="middle" font-weight="normal" font-style="normal" stroke="#333">−0.8</text>
<rect x="296.2" y="571.4" width="219.8" height="182.60000000000002" fill="none" stroke="#333" stroke-width="1.3"/>
<text x="402.3" y="778" font-size="9.9" fill="#333" text-anchor="middle" font-weight="normal" font-style="normal" textLength="143" lengthAdjust="spacingAndGlyphs" stroke="#333">Electrode Potential vs. Ag <tspan font-weight="bold">|</tspan> AgCl / V</text>
<text x="269.5" y="662.5" font-size="10.4" fill="#333" text-anchor="middle" font-weight="normal" font-style="normal" transform="rotate(-90 269.5 662.5)" textLength="85.5" lengthAdjust="spacingAndGlyphs" stroke="#333">Product&#160; Distribution</text>
<text x="257.8" y="584.7" font-size="19" fill="#111" text-anchor="start" font-weight="normal" font-style="normal" textLength="21.6" lengthAdjust="spacingAndGlyphs" stroke="#111">(e)</text>
<text x="346" y="624" font-size="10.5" fill="#222" text-anchor="middle" font-weight="bold" font-style="italic" stroke="#222">as-synthesized</text>
<text x="488.8" y="582" font-size="10" fill="#2a1a14" text-anchor="start" font-weight="bold" font-style="normal" stroke="#2a1a14">CO</text>
<text x="493" y="609.5" font-size="9.5" fill="#222" font-weight="bold" stroke="#222">H<tspan dy="2.5" font-size="6">2</tspan></text>
<text x="470.2" y="710" font-size="9.8" fill="#222" font-weight="bold" stroke="#222">HCOO<tspan dy="-3.5" font-size="6">−</tspan></text>
<text x="4.4" y="343.6" font-size="19" fill="#111" textLength="21" lengthAdjust="spacingAndGlyphs" stroke="#111">(b)</text>
<line x1="36.3" y1="423.8" x2="110.5" y2="362.3" stroke="#222" stroke-width="1.1"/>
<line x1="36.3" y1="423.8" x2="42.3" y2="488" stroke="#222" stroke-width="1.1"/>
<line x1="42.3" y1="488" x2="184.6" y2="533" stroke="#222" stroke-width="1.1"/>
<text x="35.8" y="424.1" font-size="6.6" fill="#333" text-anchor="end">−0.250</text>
<line x1="45.6" y1="416.1" x2="46.1" y2="418.1" stroke="#222" stroke-width="0.8"/>
<line x1="54.8" y1="408.4" x2="55.4" y2="411.4" stroke="#222" stroke-width="0.9"/>
<text x="54.6" y="408.3" font-size="6.6" fill="#333" text-anchor="end">−0.575</text>
<line x1="64.1" y1="400.7" x2="64.6" y2="402.7" stroke="#222" stroke-width="0.8"/>
<line x1="73.4" y1="393.1" x2="74.0" y2="396.1" stroke="#222" stroke-width="0.9"/>
<text x="73.5" y="392.6" font-size="6.6" fill="#333" text-anchor="end">−0.900</text>
<line x1="82.7" y1="385.4" x2="83.2" y2="387.4" stroke="#222" stroke-width="0.8"/>
<line x1="92.0" y1="377.7" x2="92.5" y2="380.7" stroke="#222" stroke-width="0.9"/>
<text x="92.4" y="376.8" font-size="6.6" fill="#333" text-anchor="end">−1.225</text>
<line x1="101.2" y1="370.0" x2="101.7" y2="372.0" stroke="#222" stroke-width="0.8"/>
<line x1="110.5" y1="362.3" x2="111.1" y2="365.3" stroke="#222" stroke-width="0.9"/>
<text x="111.2" y="361.0" font-size="6.6" fill="#333" text-anchor="end">−1.550</text>
<line x1="41.5" y1="479.2" x2="45.0" y2="479.2" stroke="#222" stroke-width="1"/>
<text x="39.0" y="481.7" font-size="7" fill="#333" text-anchor="end">0</text>
<line x1="39.5" y1="458.0" x2="43.0" y2="458.0" stroke="#222" stroke-width="1"/>
<text x="37.0" y="460.5" font-size="7" fill="#333" text-anchor="end">200</text>
<line x1="37.5" y1="436.7" x2="41.0" y2="436.7" stroke="#222" stroke-width="1"/>
<text x="35.0" y="439.2" font-size="7" fill="#333" text-anchor="end">400</text>
<line x1="40.5" y1="468.6" x2="42.5" y2="468.6" stroke="#222" stroke-width="0.8"/>
<line x1="38.5" y1="447.3" x2="40.5" y2="447.3" stroke="#222" stroke-width="0.8"/>
<line x1="56.5" y1="492.5" x2="56.7" y2="490.3" stroke="#222" stroke-width="0.8"/>
<text x="42.8" y="497.3" font-size="7.2" fill="#333" text-anchor="middle">200</text>
<line x1="70.8" y1="497.0" x2="71.1" y2="493.5" stroke="#222" stroke-width="1"/>
<line x1="85.0" y1="501.5" x2="85.2" y2="499.3" stroke="#222" stroke-width="0.8"/>
<text x="68.8" y="506.6" font-size="7.2" fill="#333" text-anchor="middle">300</text>
<line x1="99.2" y1="506.0" x2="99.5" y2="502.5" stroke="#222" stroke-width="1"/>
<line x1="113.5" y1="510.5" x2="113.7" y2="508.3" stroke="#222" stroke-width="0.8"/>
<text x="97.2" y="515.9" font-size="7.2" fill="#333" text-anchor="middle">400</text>
<line x1="127.7" y1="515.0" x2="128.0" y2="511.5" stroke="#222" stroke-width="1"/>
<line x1="141.9" y1="519.5" x2="142.1" y2="517.3" stroke="#222" stroke-width="0.8"/>
<text x="125.7" y="525.2" font-size="7.2" fill="#333" text-anchor="middle">500</text>
<line x1="156.1" y1="524.0" x2="156.4" y2="520.5" stroke="#222" stroke-width="1"/>
<line x1="170.4" y1="528.5" x2="170.6" y2="526.3" stroke="#222" stroke-width="0.8"/>
<text x="154.1" y="534.5" font-size="7.2" fill="#333" text-anchor="middle">600</text>
<line x1="184.6" y1="533.0" x2="184.9" y2="529.5" stroke="#222" stroke-width="1"/>
<text x="185.1" y="543.8" font-size="7.2" fill="#333" text-anchor="middle">700</text>
<text x="21.6" y="458.7" font-size="7" fill="#444" text-anchor="middle" transform="rotate(-90 21.6 458.7)" textLength="49" lengthAdjust="spacingAndGlyphs">Raman Intensity</text>
<text x="98" y="530" font-size="6.6" fill="#333" text-anchor="middle" transform="rotate(18.5 98 530)">Raman Shift / cm<tspan dy="-2.5" font-size="4.5">−1</tspan></text>
<text x="57.2" y="372.4" font-size="6.8" fill="#333" text-anchor="middle" transform="rotate(-39.6 57.2 372.4)" textLength="95" lengthAdjust="spacingAndGlyphs">Electrode Potential vs. Ag/AgCl / V</text>
<line x1="191.8" y1="522.7" x2="231.5" y2="445" stroke="#222" stroke-width="1.1"/>
<path d="M233.8,440.5 L229.2,446.5 L234,448.8 Z" fill="#222"/>
<text x="199.5" y="524" font-size="7.2" fill="#333" transform="rotate(-61.5 199.5 524)">Direction of Potential Scan</text>
<defs><clipPath id="cb"><path d="M42.5,477.5 L49.2,481.5 L55.4,482.3 L63.0,487.0 L70.8,487.7 L80.0,489.2 L93.8,492.3 L104.6,494.6 L113.8,494.0 L125.0,496.5 L136.9,497.9 L150.0,501.5 L156.5,506.0 L161.0,498.0 L165.5,493.5 L167.5,509.6 L171.5,514.8 L186.0,520.0 L229.4,439.6 L220.8,437.7 L210.2,434.8 L206.3,427.1 L201.5,423.3 L196.7,422.0 L189.0,429.0 L178.5,427.0 L155.4,422.3 L140.8,417.3 L123.0,413.8 L112.7,412.1 L108.4,411.2 L97.1,419.0 L86.7,429.4 L74.6,445.0 L57.3,462.3 Z"/></clipPath><linearGradient id="gsno" x1="0" y1="1" x2="1" y2="0"><stop offset="0" stop-color="#5064de"/><stop offset="0.4" stop-color="#4230cc"/><stop offset="1" stop-color="#4028c0"/></linearGradient><linearGradient id="gdark" x1="0" y1="1" x2="1" y2="0"><stop offset="0" stop-color="#4a3aa8"/><stop offset="1" stop-color="#47359a"/></linearGradient><filter id="bl1" x="-20%" y="-20%" width="140%" height="140%"><feGaussianBlur stdDeviation="0.8"/></filter><filter id="bl0" x="-20%" y="-20%" width="140%" height="140%"><feGaussianBlur stdDeviation="0.45"/></filter></defs>
<path d="M42.5,477.5 L49.2,481.5 L55.4,482.3 L63.0,487.0 L70.8,487.7 L80.0,489.2 L93.8,492.3 L104.6,494.6 L113.8,494.0 L125.0,496.5 L136.9,497.9 L150.0,501.5 L156.5,506.0 L161.0,498.0 L165.5,493.5 L167.5,509.6 L171.5,514.8 L186.0,520.0 L229.4,439.6 L220.8,437.7 L210.2,434.8 L206.3,427.1 L201.5,423.3 L196.7,422.0 L189.0,429.0 L178.5,427.0 L155.4,422.3 L140.8,417.3 L123.0,413.8 L112.7,412.1 L108.4,411.2 L97.1,419.0 L86.7,429.4 L74.6,445.0 L57.3,462.3 Z" fill="#aacdf8"/>
<g clip-path="url(#cb)">
<path d="M40,480 L62,487 L90,456 L112,420 L100,416 Z" fill="#5f88e6" opacity="0.75" filter="url(#bl1)"/>
<line x1="40.9" y1="479.7" x2="110.7" y2="409.3" stroke="#5a82e6" stroke-width="2.33" stroke-opacity="0.7"/>
<line x1="42.1" y1="480.4" x2="111.7" y2="409.5" stroke="#e0eefe" stroke-width="1.66" stroke-opacity="0.7"/>
<line x1="42.8" y1="480.9" x2="112.3" y2="409.6" stroke="#90b4f2" stroke-width="2.23" stroke-opacity="0.7"/>
<line x1="43.7" y1="481.4" x2="113.0" y2="409.7" stroke="#7aa2ee" stroke-width="2.21" stroke-opacity="0.7"/>
<line x1="44.3" y1="481.8" x2="113.5" y2="409.8" stroke="#6a92ea" stroke-width="0.97" stroke-opacity="0.7"/>
<line x1="45.5" y1="482.5" x2="114.5" y2="410.0" stroke="#84aaf0" stroke-width="0.78" stroke-opacity="0.7"/>
<line x1="46.7" y1="483.3" x2="115.6" y2="410.2" stroke="#e0eefe" stroke-width="1.94" stroke-opacity="0.7"/>
<line x1="47.4" y1="483.6" x2="116.1" y2="410.3" stroke="#90b4f2" stroke-width="1.88" stroke-opacity="0.7"/>
<line x1="48.4" y1="483.7" x2="117.0" y2="410.4" stroke="#bcd8fa" stroke-width="0.81" stroke-opacity="0.7"/>
<line x1="48.9" y1="483.8" x2="117.3" y2="410.5" stroke="#c8e0fc" stroke-width="1.84" stroke-opacity="0.7"/>
<line x1="50.2" y1="484.0" x2="118.4" y2="410.7" stroke="#d4e8fd" stroke-width="1.54" stroke-opacity="0.7"/>
<line x1="51.1" y1="484.1" x2="119.2" y2="410.8" stroke="#5a82e6" stroke-width="1.14" stroke-opacity="0.7"/>
<line x1="51.6" y1="484.1" x2="119.7" y2="410.9" stroke="#7aa2ee" stroke-width="1.96" stroke-opacity="0.7"/>
<line x1="52.7" y1="484.3" x2="120.5" y2="411.0" stroke="#6a92ea" stroke-width="1.47" stroke-opacity="0.7"/>
<line x1="53.6" y1="484.5" x2="121.3" y2="411.1" stroke="#bcd8fa" stroke-width="2.04" stroke-opacity="0.7"/>
<line x1="54.4" y1="484.9" x2="121.9" y2="411.2" stroke="#c8e0fc" stroke-width="1.67" stroke-opacity="0.7"/>
<line x1="55.1" y1="485.4" x2="122.5" y2="411.3" stroke="#7aa2ee" stroke-width="2.16" stroke-opacity="0.7"/>
<line x1="56.2" y1="486.1" x2="123.5" y2="411.5" stroke="#6a92ea" stroke-width="1.43" stroke-opacity="0.7"/>
<line x1="57.5" y1="486.9" x2="124.6" y2="411.6" stroke="#84aaf0" stroke-width="0.70" stroke-opacity="0.7"/>
<line x1="57.9" y1="487.1" x2="124.9" y2="411.7" stroke="#7aa2ee" stroke-width="1.59" stroke-opacity="0.7"/>
<line x1="59.3" y1="488.1" x2="126.1" y2="411.9" stroke="#a0c4f6" stroke-width="1.50" stroke-opacity="0.7"/>
<line x1="59.9" y1="488.4" x2="126.6" y2="412.0" stroke="#c8e0fc" stroke-width="2.18" stroke-opacity="0.7"/>
<line x1="60.6" y1="488.9" x2="127.2" y2="412.1" stroke="#bcd8fa" stroke-width="1.29" stroke-opacity="0.7"/>
<line x1="61.3" y1="489.2" x2="127.8" y2="412.2" stroke="#a0c4f6" stroke-width="2.14" stroke-opacity="0.7"/>
<line x1="62.3" y1="489.3" x2="128.6" y2="412.3" stroke="#c8e0fc" stroke-width="2.04" stroke-opacity="0.7"/>
<line x1="63.1" y1="489.4" x2="129.3" y2="412.5" stroke="#e0eefe" stroke-width="2.21" stroke-opacity="0.7"/>
<line x1="64.2" y1="489.4" x2="130.1" y2="412.7" stroke="#5a82e6" stroke-width="1.06" stroke-opacity="0.7"/>
<line x1="65.3" y1="489.5" x2="131.1" y2="412.8" stroke="#90b4f2" stroke-width="1.50" stroke-opacity="0.7"/>
<line x1="66.1" y1="489.6" x2="131.7" y2="413.0" stroke="#a0c4f6" stroke-width="1.50" stroke-opacity="0.7"/>
<line x1="66.9" y1="489.7" x2="132.4" y2="413.1" stroke="#6a92ea" stroke-width="2.34" stroke-opacity="0.7"/>
<line x1="68.3" y1="489.8" x2="133.6" y2="413.4" stroke="#7aa2ee" stroke-width="1.28" stroke-opacity="0.7"/>
<line x1="69.2" y1="489.9" x2="134.3" y2="413.5" stroke="#c8e0fc" stroke-width="1.06" stroke-opacity="0.7"/>
<line x1="70.2" y1="490.1" x2="135.1" y2="413.7" stroke="#7aa2ee" stroke-width="1.92" stroke-opacity="0.7"/>
<line x1="70.4" y1="490.1" x2="135.3" y2="413.7" stroke="#90b4f2" stroke-width="1.11" stroke-opacity="0.7"/>
<line x1="71.4" y1="490.3" x2="136.2" y2="413.9" stroke="#7aa2ee" stroke-width="1.33" stroke-opacity="0.7"/>
<line x1="72.4" y1="490.4" x2="137.0" y2="414.0" stroke="#bcd8fa" stroke-width="0.84" stroke-opacity="0.7"/>
<line x1="73.2" y1="490.6" x2="137.7" y2="414.2" stroke="#84aaf0" stroke-width="1.16" stroke-opacity="0.7"/>
<line x1="74.4" y1="490.7" x2="138.6" y2="414.4" stroke="#d4e8fd" stroke-width="1.88" stroke-opacity="0.7"/>
<line x1="74.9" y1="490.8" x2="139.1" y2="414.4" stroke="#7aa2ee" stroke-width="1.62" stroke-opacity="0.7"/>
<line x1="76.2" y1="491.0" x2="140.1" y2="414.7" stroke="#a0c4f6" stroke-width="1.05" stroke-opacity="0.7"/>
<line x1="76.8" y1="491.1" x2="140.6" y2="414.7" stroke="#c8e0fc" stroke-width="2.25" stroke-opacity="0.7"/>
<line x1="77.7" y1="491.3" x2="141.4" y2="414.9" stroke="#c8e0fc" stroke-width="1.00" stroke-opacity="0.7"/>
<line x1="78.9" y1="491.5" x2="142.4" y2="415.1" stroke="#5a82e6" stroke-width="1.07" stroke-opacity="0.7"/>
<line x1="80.0" y1="491.8" x2="143.4" y2="415.4" stroke="#e0eefe" stroke-width="1.85" stroke-opacity="0.7"/>
<line x1="80.6" y1="491.9" x2="143.8" y2="415.6" stroke="#bcd8fa" stroke-width="0.91" stroke-opacity="0.7"/>
<line x1="81.5" y1="492.1" x2="144.6" y2="415.8" stroke="#6a92ea" stroke-width="1.15" stroke-opacity="0.7"/>
<line x1="82.6" y1="492.3" x2="145.5" y2="416.1" stroke="#6a92ea" stroke-width="1.50" stroke-opacity="0.7"/>
<line x1="83.6" y1="492.6" x2="146.3" y2="416.4" stroke="#e0eefe" stroke-width="1.26" stroke-opacity="0.7"/>
<line x1="84.0" y1="492.6" x2="146.7" y2="416.5" stroke="#bcd8fa" stroke-width="0.94" stroke-opacity="0.7"/>
<line x1="85.1" y1="492.9" x2="147.6" y2="416.9" stroke="#84aaf0" stroke-width="2.32" stroke-opacity="0.7"/>
<line x1="86.1" y1="493.1" x2="148.4" y2="417.2" stroke="#6a92ea" stroke-width="1.10" stroke-opacity="0.7"/>
<line x1="87.2" y1="493.4" x2="149.4" y2="417.5" stroke="#7aa2ee" stroke-width="0.83" stroke-opacity="0.7"/>
<line x1="87.8" y1="493.5" x2="149.8" y2="417.6" stroke="#c8e0fc" stroke-width="0.81" stroke-opacity="0.7"/>
<line x1="88.5" y1="493.6" x2="150.4" y2="417.8" stroke="#d4e8fd" stroke-width="1.71" stroke-opacity="0.7"/>
<line x1="90.0" y1="494.0" x2="151.6" y2="418.3" stroke="#bcd8fa" stroke-width="1.39" stroke-opacity="0.7"/>
<line x1="90.8" y1="494.2" x2="152.3" y2="418.5" stroke="#d4e8fd" stroke-width="1.95" stroke-opacity="0.7"/>
<line x1="91.6" y1="494.3" x2="153.0" y2="418.7" stroke="#7aa2ee" stroke-width="2.50" stroke-opacity="0.7"/>
<line x1="92.4" y1="494.5" x2="153.7" y2="419.0" stroke="#7aa2ee" stroke-width="1.60" stroke-opacity="0.7"/>
<line x1="93.1" y1="494.7" x2="154.3" y2="419.2" stroke="#6a92ea" stroke-width="2.53" stroke-opacity="0.7"/>
<line x1="93.8" y1="494.8" x2="154.8" y2="419.4" stroke="#84aaf0" stroke-width="0.84" stroke-opacity="0.7"/>
<line x1="94.7" y1="495.0" x2="155.6" y2="419.7" stroke="#6a92ea" stroke-width="1.31" stroke-opacity="0.7"/>
<line x1="96.3" y1="495.3" x2="156.9" y2="420.1" stroke="#bcd8fa" stroke-width="1.56" stroke-opacity="0.7"/>
<line x1="96.7" y1="495.4" x2="157.3" y2="420.2" stroke="#7aa2ee" stroke-width="2.41" stroke-opacity="0.7"/>
<line x1="97.9" y1="495.7" x2="158.3" y2="420.4" stroke="#90b4f2" stroke-width="2.21" stroke-opacity="0.7"/>
<line x1="98.9" y1="495.9" x2="159.1" y2="420.6" stroke="#d4e8fd" stroke-width="0.86" stroke-opacity="0.7"/>
<line x1="99.5" y1="496.0" x2="159.6" y2="420.7" stroke="#bcd8fa" stroke-width="2.36" stroke-opacity="0.7"/>
<line x1="100.4" y1="496.2" x2="160.3" y2="420.8" stroke="#7aa2ee" stroke-width="2.34" stroke-opacity="0.7"/>
<line x1="101.4" y1="496.4" x2="161.2" y2="421.0" stroke="#7aa2ee" stroke-width="1.96" stroke-opacity="0.7"/>
<line x1="102.2" y1="496.6" x2="161.8" y2="421.1" stroke="#7aa2ee" stroke-width="1.86" stroke-opacity="0.7"/>
<line x1="102.8" y1="496.7" x2="162.4" y2="421.2" stroke="#84aaf0" stroke-width="0.92" stroke-opacity="0.7"/>
<line x1="103.9" y1="496.7" x2="163.2" y2="421.4" stroke="#a0c4f6" stroke-width="2.08" stroke-opacity="0.7"/>
<line x1="104.9" y1="496.6" x2="164.1" y2="421.6" stroke="#7aa2ee" stroke-width="1.57" stroke-opacity="0.7"/>
<line x1="105.8" y1="496.5" x2="164.9" y2="421.8" stroke="#5a82e6" stroke-width="0.86" stroke-opacity="0.7"/>
<line x1="106.9" y1="496.4" x2="165.8" y2="422.0" stroke="#7aa2ee" stroke-width="1.29" stroke-opacity="0.7"/>
<line x1="107.4" y1="496.4" x2="166.2" y2="422.0" stroke="#7aa2ee" stroke-width="1.14" stroke-opacity="0.7"/>
<line x1="108.7" y1="496.3" x2="167.3" y2="422.3" stroke="#e0eefe" stroke-width="2.18" stroke-opacity="0.7"/>
<line x1="109.6" y1="496.3" x2="168.0" y2="422.4" stroke="#e0eefe" stroke-width="1.19" stroke-opacity="0.7"/>
<line x1="110.0" y1="496.2" x2="168.4" y2="422.5" stroke="#6a92ea" stroke-width="0.97" stroke-opacity="0.7"/>
<line x1="111.3" y1="496.1" x2="169.5" y2="422.8" stroke="#5a82e6" stroke-width="1.02" stroke-opacity="0.7"/>
<line x1="112.5" y1="496.1" x2="170.4" y2="422.9" stroke="#84aaf0" stroke-width="2.47" stroke-opacity="0.7"/>
<line x1="113.1" y1="496.3" x2="170.9" y2="423.1" stroke="#c8e0fc" stroke-width="1.32" stroke-opacity="0.7"/>
<line x1="114.1" y1="496.5" x2="171.8" y2="423.2" stroke="#c8e0fc" stroke-width="1.90" stroke-opacity="0.7"/>
<line x1="115.1" y1="496.7" x2="172.6" y2="423.4" stroke="#c8e0fc" stroke-width="2.37" stroke-opacity="0.7"/>
<line x1="115.7" y1="496.9" x2="173.1" y2="423.5" stroke="#7aa2ee" stroke-width="2.45" stroke-opacity="0.7"/>
<line x1="116.5" y1="497.0" x2="173.7" y2="423.6" stroke="#90b4f2" stroke-width="1.64" stroke-opacity="0.7"/>
<line x1="117.8" y1="497.3" x2="174.9" y2="423.9" stroke="#7aa2ee" stroke-width="2.05" stroke-opacity="0.7"/>
<line x1="118.8" y1="497.6" x2="175.7" y2="424.0" stroke="#6a92ea" stroke-width="2.26" stroke-opacity="0.7"/>
<line x1="119.1" y1="497.6" x2="175.9" y2="424.1" stroke="#e0eefe" stroke-width="1.22" stroke-opacity="0.7"/>
<line x1="120.1" y1="497.8" x2="176.8" y2="424.2" stroke="#a0c4f6" stroke-width="1.43" stroke-opacity="0.7"/>
<line x1="121.2" y1="498.1" x2="177.7" y2="424.4" stroke="#84aaf0" stroke-width="1.30" stroke-opacity="0.7"/>
<line x1="122.3" y1="498.3" x2="178.6" y2="424.6" stroke="#7aa2ee" stroke-width="1.56" stroke-opacity="0.7"/>
<line x1="122.7" y1="498.4" x2="178.9" y2="424.7" stroke="#7aa2ee" stroke-width="1.23" stroke-opacity="0.7"/>
<line x1="124.0" y1="498.7" x2="180.0" y2="424.9" stroke="#84aaf0" stroke-width="2.05" stroke-opacity="0.7"/>
<line x1="124.8" y1="498.8" x2="180.7" y2="425.0" stroke="#6a92ea" stroke-width="1.93" stroke-opacity="0.7"/>
<line x1="125.7" y1="498.9" x2="181.5" y2="425.2" stroke="#84aaf0" stroke-width="0.96" stroke-opacity="0.7"/>
<line x1="126.5" y1="499.0" x2="182.2" y2="425.3" stroke="#7aa2ee" stroke-width="2.16" stroke-opacity="0.7"/>
<line x1="127.3" y1="499.0" x2="182.8" y2="425.4" stroke="#90b4f2" stroke-width="2.21" stroke-opacity="0.7"/>
<line x1="128.7" y1="499.2" x2="184.0" y2="425.7" stroke="#bcd8fa" stroke-width="1.55" stroke-opacity="0.7"/>
<line x1="129.4" y1="499.3" x2="184.5" y2="425.8" stroke="#84aaf0" stroke-width="1.92" stroke-opacity="0.7"/>
<line x1="130.1" y1="499.4" x2="185.1" y2="425.9" stroke="#bcd8fa" stroke-width="2.00" stroke-opacity="0.7"/>
<line x1="130.9" y1="499.5" x2="185.8" y2="426.0" stroke="#e0eefe" stroke-width="1.19" stroke-opacity="0.7"/>
<line x1="132.1" y1="499.6" x2="186.8" y2="426.2" stroke="#e0eefe" stroke-width="1.72" stroke-opacity="0.7"/>
<line x1="132.6" y1="499.6" x2="187.2" y2="426.3" stroke="#c8e0fc" stroke-width="1.22" stroke-opacity="0.7"/>
<line x1="133.7" y1="499.8" x2="188.1" y2="426.5" stroke="#5a82e6" stroke-width="1.65" stroke-opacity="0.7"/>
<line x1="135.0" y1="499.9" x2="189.3" y2="426.7" stroke="#90b4f2" stroke-width="1.45" stroke-opacity="0.7"/>
<line x1="135.8" y1="500.1" x2="189.9" y2="426.8" stroke="#c8e0fc" stroke-width="0.87" stroke-opacity="0.7"/>
<line x1="136.8" y1="500.4" x2="190.7" y2="426.7" stroke="#a0c4f6" stroke-width="0.95" stroke-opacity="0.7"/>
<line x1="137.4" y1="500.5" x2="191.2" y2="426.3" stroke="#84aaf0" stroke-width="2.39" stroke-opacity="0.7"/>
<line x1="137.9" y1="500.7" x2="191.7" y2="425.8" stroke="#5a82e6" stroke-width="1.78" stroke-opacity="0.7"/>
<line x1="139.5" y1="501.2" x2="193.0" y2="424.6" stroke="#d4e8fd" stroke-width="1.58" stroke-opacity="0.7"/>
<line x1="140.2" y1="501.4" x2="193.6" y2="424.0" stroke="#c8e0fc" stroke-width="0.89" stroke-opacity="0.7"/>
<line x1="141.3" y1="501.7" x2="194.4" y2="423.2" stroke="#84aaf0" stroke-width="2.46" stroke-opacity="0.7"/>
<line x1="141.6" y1="501.8" x2="194.8" y2="422.9" stroke="#c8e0fc" stroke-width="2.41" stroke-opacity="0.7"/>
<line x1="143.1" y1="502.3" x2="196.0" y2="421.7" stroke="#6a92ea" stroke-width="1.72" stroke-opacity="0.7"/>
<line x1="143.9" y1="502.5" x2="196.7" y2="421.1" stroke="#d4e8fd" stroke-width="1.20" stroke-opacity="0.7"/>
<line x1="144.8" y1="502.8" x2="197.4" y2="420.4" stroke="#7aa2ee" stroke-width="1.36" stroke-opacity="0.7"/>
<line x1="145.2" y1="502.9" x2="197.7" y2="420.1" stroke="#e0eefe" stroke-width="1.35" stroke-opacity="0.7"/>
<line x1="146.3" y1="503.3" x2="198.7" y2="419.8" stroke="#6a92ea" stroke-width="1.63" stroke-opacity="0.7"/>
<line x1="147.0" y1="503.4" x2="199.2" y2="419.9" stroke="#bcd8fa" stroke-width="1.51" stroke-opacity="0.7"/>
<line x1="147.9" y1="503.7" x2="200.0" y2="420.1" stroke="#5a82e6" stroke-width="1.34" stroke-opacity="0.7"/>
<line x1="149.3" y1="504.4" x2="201.2" y2="420.4" stroke="#90b4f2" stroke-width="1.59" stroke-opacity="0.7"/>
<line x1="150.4" y1="505.2" x2="202.0" y2="420.7" stroke="#5a82e6" stroke-width="2.30" stroke-opacity="0.7"/>
<line x1="151.0" y1="505.6" x2="202.6" y2="420.8" stroke="#e0eefe" stroke-width="1.80" stroke-opacity="0.7"/>
<line x1="151.9" y1="506.3" x2="203.4" y2="421.2" stroke="#c8e0fc" stroke-width="1.53" stroke-opacity="0.7"/>
<line x1="152.8" y1="506.8" x2="204.0" y2="421.8" stroke="#5a82e6" stroke-width="1.91" stroke-opacity="0.7"/>
<line x1="153.6" y1="507.4" x2="204.8" y2="422.3" stroke="#5a82e6" stroke-width="1.19" stroke-opacity="0.7"/>
<line x1="154.6" y1="508.1" x2="205.6" y2="423.0" stroke="#7aa2ee" stroke-width="1.10" stroke-opacity="0.7"/>
<line x1="155.7" y1="507.3" x2="206.5" y2="423.7" stroke="#5a82e6" stroke-width="1.70" stroke-opacity="0.7"/>
<line x1="156.4" y1="506.0" x2="207.1" y2="424.2" stroke="#c8e0fc" stroke-width="1.48" stroke-opacity="0.7"/>
<line x1="156.9" y1="505.0" x2="207.5" y2="424.7" stroke="#7aa2ee" stroke-width="1.85" stroke-opacity="0.7"/>
<line x1="157.8" y1="503.4" x2="208.2" y2="425.9" stroke="#7aa2ee" stroke-width="1.68" stroke-opacity="0.7"/>
<line x1="158.9" y1="501.2" x2="209.2" y2="428.0" stroke="#7aa2ee" stroke-width="0.93" stroke-opacity="0.7"/>
<line x1="159.6" y1="500.0" x2="209.8" y2="429.2" stroke="#90b4f2" stroke-width="0.83" stroke-opacity="0.7"/>
<line x1="160.8" y1="498.6" x2="210.8" y2="431.3" stroke="#a0c4f6" stroke-width="2.45" stroke-opacity="0.7"/>
<line x1="161.9" y1="497.5" x2="211.7" y2="433.0" stroke="#a0c4f6" stroke-width="1.21" stroke-opacity="0.7"/>
<line x1="162.6" y1="496.8" x2="212.3" y2="433.2" stroke="#90b4f2" stroke-width="1.35" stroke-opacity="0.7"/>
<line x1="163.8" y1="495.5" x2="213.3" y2="433.5" stroke="#e0eefe" stroke-width="1.70" stroke-opacity="0.7"/>
<line x1="164.1" y1="495.6" x2="213.5" y2="433.6" stroke="#a0c4f6" stroke-width="1.87" stroke-opacity="0.7"/>
<line x1="165.6" y1="507.9" x2="214.8" y2="433.6" stroke="#90b4f2" stroke-width="2.03" stroke-opacity="0.7"/>
<line x1="166.6" y1="512.4" x2="215.6" y2="433.7" stroke="#7aa2ee" stroke-width="1.07" stroke-opacity="0.7"/>
<line x1="166.9" y1="512.9" x2="215.9" y2="433.7" stroke="#84aaf0" stroke-width="1.24" stroke-opacity="0.7"/>
<line x1="168.2" y1="514.6" x2="216.9" y2="434.0" stroke="#c8e0fc" stroke-width="1.88" stroke-opacity="0.7"/>
<line x1="168.6" y1="515.2" x2="217.3" y2="434.1" stroke="#7aa2ee" stroke-width="0.93" stroke-opacity="0.7"/>
<line x1="169.8" y1="516.8" x2="218.3" y2="434.3" stroke="#6a92ea" stroke-width="2.06" stroke-opacity="0.7"/>
<line x1="170.9" y1="517.4" x2="219.2" y2="434.5" stroke="#a0c4f6" stroke-width="0.74" stroke-opacity="0.7"/>
<line x1="171.7" y1="517.7" x2="219.9" y2="434.7" stroke="#5a82e6" stroke-width="1.87" stroke-opacity="0.7"/>
<line x1="172.6" y1="518.0" x2="220.6" y2="434.9" stroke="#84aaf0" stroke-width="1.71" stroke-opacity="0.7"/>
<line x1="173.2" y1="518.3" x2="221.1" y2="435.1" stroke="#c8e0fc" stroke-width="2.32" stroke-opacity="0.7"/>
<line x1="174.4" y1="518.7" x2="222.1" y2="435.3" stroke="#90b4f2" stroke-width="1.14" stroke-opacity="0.7"/>
<line x1="175.4" y1="519.0" x2="223.0" y2="435.5" stroke="#d4e8fd" stroke-width="2.42" stroke-opacity="0.7"/>
<line x1="176.0" y1="519.3" x2="223.4" y2="435.6" stroke="#d4e8fd" stroke-width="2.39" stroke-opacity="0.7"/>
<line x1="176.8" y1="519.6" x2="224.1" y2="435.8" stroke="#c8e0fc" stroke-width="2.39" stroke-opacity="0.7"/>
<line x1="177.7" y1="519.9" x2="224.8" y2="435.9" stroke="#c8e0fc" stroke-width="0.95" stroke-opacity="0.7"/>
<line x1="178.5" y1="520.2" x2="225.6" y2="436.1" stroke="#a0c4f6" stroke-width="0.88" stroke-opacity="0.7"/>
<line x1="180.0" y1="520.7" x2="226.8" y2="436.3" stroke="#a0c4f6" stroke-width="1.73" stroke-opacity="0.7"/>
<line x1="180.8" y1="521.0" x2="227.4" y2="436.5" stroke="#c8e0fc" stroke-width="1.47" stroke-opacity="0.7"/>
<line x1="181.7" y1="521.3" x2="228.2" y2="436.6" stroke="#7aa2ee" stroke-width="0.88" stroke-opacity="0.7"/>
<line x1="182.5" y1="521.6" x2="228.9" y2="436.8" stroke="#d4e8fd" stroke-width="2.43" stroke-opacity="0.7"/>
<line x1="183.7" y1="522.0" x2="229.9" y2="437.0" stroke="#bcd8fa" stroke-width="2.04" stroke-opacity="0.7"/>
<line x1="184.3" y1="522.3" x2="230.4" y2="437.1" stroke="#d4e8fd" stroke-width="1.66" stroke-opacity="0.7"/>
<line x1="146.5" y1="491.0" x2="153.0" y2="481.8" stroke="#bcd8fa" stroke-width="0.77" stroke-opacity="0.7" stroke-linecap="round"/>
<line x1="174.8" y1="465.2" x2="197.4" y2="428.4" stroke="#e0eefe" stroke-width="1.09" stroke-opacity="0.7" stroke-linecap="round"/>
<line x1="76.6" y1="478.6" x2="103.5" y2="447.1" stroke="#6a92ea" stroke-width="3.18" stroke-opacity="0.7" stroke-linecap="round"/>
<line x1="56.3" y1="482.6" x2="87.0" y2="449.2" stroke="#e0eefe" stroke-width="0.91" stroke-opacity="0.7" stroke-linecap="round"/>
<line x1="74.4" y1="463.3" x2="91.6" y2="444.4" stroke="#d4e8fd" stroke-width="1.85" stroke-opacity="0.7" stroke-linecap="round"/>
<line x1="126.7" y1="499.6" x2="146.6" y2="473.2" stroke="#c8e0fc" stroke-width="1.19" stroke-opacity="0.7" stroke-linecap="round"/>
<line x1="139.9" y1="453.6" x2="154.4" y2="435.2" stroke="#c8e0fc" stroke-width="2.32" stroke-opacity="0.7" stroke-linecap="round"/>
<line x1="95.9" y1="439.4" x2="110.5" y2="423.5" stroke="#bcd8fa" stroke-width="2.85" stroke-opacity="0.7" stroke-linecap="round"/>
<line x1="177.7" y1="448.6" x2="195.3" y2="422.3" stroke="#a0c4f6" stroke-width="2.23" stroke-opacity="0.7" stroke-linecap="round"/>
<line x1="97.4" y1="455.4" x2="112.0" y2="438.3" stroke="#6a92ea" stroke-width="1.45" stroke-opacity="0.7" stroke-linecap="round"/>
<line x1="96.0" y1="443.4" x2="106.4" y2="431.8" stroke="#a0c4f6" stroke-width="1.06" stroke-opacity="0.7" stroke-linecap="round"/>
<line x1="113.7" y1="462.2" x2="128.2" y2="444.5" stroke="#a0c4f6" stroke-width="2.75" stroke-opacity="0.7" stroke-linecap="round"/>
<line x1="132.8" y1="453.7" x2="140.0" y2="444.6" stroke="#d4e8fd" stroke-width="1.51" stroke-opacity="0.7" stroke-linecap="round"/>
<line x1="101.8" y1="434.0" x2="123.8" y2="409.9" stroke="#7aa2ee" stroke-width="0.83" stroke-opacity="0.7" stroke-linecap="round"/>
<line x1="127.5" y1="434.3" x2="140.6" y2="418.5" stroke="#c8e0fc" stroke-width="2.47" stroke-opacity="0.7" stroke-linecap="round"/>
<line x1="145.6" y1="468.3" x2="159.2" y2="450.5" stroke="#e0eefe" stroke-width="2.42" stroke-opacity="0.7" stroke-linecap="round"/>
<line x1="173.1" y1="455.1" x2="195.8" y2="421.4" stroke="#7aa2ee" stroke-width="1.01" stroke-opacity="0.7" stroke-linecap="round"/>
<line x1="67.6" y1="473.3" x2="85.2" y2="453.7" stroke="#5a82e6" stroke-width="0.84" stroke-opacity="0.7" stroke-linecap="round"/>
<line x1="87.1" y1="468.3" x2="95.7" y2="458.2" stroke="#6a92ea" stroke-width="1.44" stroke-opacity="0.7" stroke-linecap="round"/>
<line x1="115.3" y1="462.5" x2="130.8" y2="443.5" stroke="#5a82e6" stroke-width="2.22" stroke-opacity="0.7" stroke-linecap="round"/>
<line x1="206.7" y1="480.2" x2="225.2" y2="446.2" stroke="#bcd8fa" stroke-width="2.17" stroke-opacity="0.7" stroke-linecap="round"/>
<line x1="177.2" y1="445.3" x2="190.1" y2="427.6" stroke="#90b4f2" stroke-width="1.73" stroke-opacity="0.7" stroke-linecap="round"/>
<line x1="211.6" y1="464.5" x2="225.5" y2="439.3" stroke="#7aa2ee" stroke-width="0.86" stroke-opacity="0.7" stroke-linecap="round"/>
<line x1="191.9" y1="492.9" x2="205.7" y2="468.3" stroke="#7aa2ee" stroke-width="1.54" stroke-opacity="0.7" stroke-linecap="round"/>
<line x1="138.1" y1="470.1" x2="149.3" y2="455.7" stroke="#6a92ea" stroke-width="2.48" stroke-opacity="0.7" stroke-linecap="round"/>
<line x1="148.5" y1="503.6" x2="168.5" y2="471.3" stroke="#7aa2ee" stroke-width="0.81" stroke-opacity="0.7" stroke-linecap="round"/>
<line x1="101.9" y1="444.3" x2="117.8" y2="425.7" stroke="#d4e8fd" stroke-width="2.71" stroke-opacity="0.7" stroke-linecap="round"/>
<line x1="100.9" y1="426.9" x2="117.7" y2="408.9" stroke="#bcd8fa" stroke-width="2.84" stroke-opacity="0.7" stroke-linecap="round"/>
<line x1="108.8" y1="447.9" x2="121.0" y2="433.4" stroke="#c8e0fc" stroke-width="0.82" stroke-opacity="0.7" stroke-linecap="round"/>
<line x1="97.3" y1="438.5" x2="123.5" y2="409.9" stroke="#90b4f2" stroke-width="3.32" stroke-opacity="0.7" stroke-linecap="round"/>
<line x1="181.7" y1="467.3" x2="188.6" y2="456.8" stroke="#7aa2ee" stroke-width="1.82" stroke-opacity="0.7" stroke-linecap="round"/>
<line x1="102.6" y1="436.3" x2="117.9" y2="419.1" stroke="#90b4f2" stroke-width="1.03" stroke-opacity="0.7" stroke-linecap="round"/>
<line x1="135.0" y1="457.8" x2="150.8" y2="437.8" stroke="#6a92ea" stroke-width="2.41" stroke-opacity="0.7" stroke-linecap="round"/>
<line x1="153.5" y1="480.3" x2="173.6" y2="451.8" stroke="#90b4f2" stroke-width="3.25" stroke-opacity="0.7" stroke-linecap="round"/>
<line x1="155.4" y1="488.9" x2="162.6" y2="477.4" stroke="#6a92ea" stroke-width="2.80" stroke-opacity="0.7" stroke-linecap="round"/>
<line x1="145.4" y1="479.7" x2="156.2" y2="465.2" stroke="#84aaf0" stroke-width="2.64" stroke-opacity="0.7" stroke-linecap="round"/>
<line x1="148.4" y1="491.3" x2="159.0" y2="475.6" stroke="#c8e0fc" stroke-width="1.21" stroke-opacity="0.7" stroke-linecap="round"/>
<line x1="125.4" y1="432.5" x2="141.5" y2="413.2" stroke="#84aaf0" stroke-width="0.81" stroke-opacity="0.7" stroke-linecap="round"/>
<line x1="62.9" y1="469.3" x2="80.3" y2="450.6" stroke="#7aa2ee" stroke-width="0.80" stroke-opacity="0.7" stroke-linecap="round"/>
<line x1="85.8" y1="474.8" x2="110.3" y2="445.9" stroke="#84aaf0" stroke-width="1.13" stroke-opacity="0.7" stroke-linecap="round"/>
<line x1="123.7" y1="432.1" x2="139.8" y2="412.9" stroke="#d4e8fd" stroke-width="1.26" stroke-opacity="0.7" stroke-linecap="round"/>
<line x1="125.7" y1="450.2" x2="151.1" y2="419.1" stroke="#bcd8fa" stroke-width="2.85" stroke-opacity="0.7" stroke-linecap="round"/>
<line x1="142.9" y1="448.6" x2="165.3" y2="420.2" stroke="#c8e0fc" stroke-width="1.89" stroke-opacity="0.7" stroke-linecap="round"/>
<line x1="163.6" y1="479.2" x2="171.4" y2="466.6" stroke="#90b4f2" stroke-width="2.45" stroke-opacity="0.7" stroke-linecap="round"/>
<line x1="194.3" y1="501.3" x2="208.3" y2="475.7" stroke="#90b4f2" stroke-width="1.85" stroke-opacity="0.7" stroke-linecap="round"/>
<line x1="97.4" y1="490.3" x2="123.3" y2="458.3" stroke="#bcd8fa" stroke-width="2.16" stroke-opacity="0.7" stroke-linecap="round"/>
<line x1="128.8" y1="463.8" x2="152.7" y2="433.4" stroke="#e0eefe" stroke-width="1.50" stroke-opacity="0.7" stroke-linecap="round"/>
<line x1="154.5" y1="502.9" x2="163.5" y2="488.1" stroke="#84aaf0" stroke-width="2.32" stroke-opacity="0.7" stroke-linecap="round"/>
<line x1="160.9" y1="472.1" x2="181.3" y2="442.3" stroke="#d4e8fd" stroke-width="1.46" stroke-opacity="0.7" stroke-linecap="round"/>
<line x1="78.9" y1="468.5" x2="103.4" y2="440.2" stroke="#d4e8fd" stroke-width="3.13" stroke-opacity="0.7" stroke-linecap="round"/>
<line x1="107.8" y1="467.9" x2="127.6" y2="443.7" stroke="#84aaf0" stroke-width="3.15" stroke-opacity="0.7" stroke-linecap="round"/>
<line x1="140.8" y1="449.6" x2="153.2" y2="433.9" stroke="#d4e8fd" stroke-width="1.29" stroke-opacity="0.7" stroke-linecap="round"/>
<line x1="206.5" y1="472.9" x2="220.1" y2="448.5" stroke="#bcd8fa" stroke-width="1.67" stroke-opacity="0.7" stroke-linecap="round"/>
<line x1="109.9" y1="474.1" x2="124.8" y2="455.7" stroke="#a0c4f6" stroke-width="2.83" stroke-opacity="0.7" stroke-linecap="round"/>
<line x1="161.5" y1="480.4" x2="174.1" y2="460.2" stroke="#90b4f2" stroke-width="2.94" stroke-opacity="0.7" stroke-linecap="round"/>
<line x1="128.6" y1="489.2" x2="150.1" y2="461.1" stroke="#6a92ea" stroke-width="2.88" stroke-opacity="0.7" stroke-linecap="round"/>
<line x1="74.2" y1="488.3" x2="84.2" y2="476.5" stroke="#6a92ea" stroke-width="3.29" stroke-opacity="0.7" stroke-linecap="round"/>
<line x1="168.4" y1="454.0" x2="174.9" y2="445.3" stroke="#5a82e6" stroke-width="1.52" stroke-opacity="0.7" stroke-linecap="round"/>
<line x1="133.3" y1="479.3" x2="144.6" y2="464.8" stroke="#bcd8fa" stroke-width="3.11" stroke-opacity="0.7" stroke-linecap="round"/>
<line x1="85.9" y1="448.4" x2="96.0" y2="437.5" stroke="#84aaf0" stroke-width="1.83" stroke-opacity="0.7" stroke-linecap="round"/>
<line x1="162.9" y1="472.2" x2="186.0" y2="437.0" stroke="#d4e8fd" stroke-width="2.75" stroke-opacity="0.7" stroke-linecap="round"/>
<line x1="112.6" y1="476.6" x2="140.4" y2="442.0" stroke="#84aaf0" stroke-width="1.07" stroke-opacity="0.7" stroke-linecap="round"/>
<line x1="147.4" y1="450.1" x2="154.4" y2="441.2" stroke="#7aa2ee" stroke-width="3.15" stroke-opacity="0.7" stroke-linecap="round"/>
<line x1="138.4" y1="447.6" x2="159.2" y2="421.5" stroke="#7aa2ee" stroke-width="2.86" stroke-opacity="0.7" stroke-linecap="round"/>
<line x1="195.4" y1="451.8" x2="211.7" y2="429.8" stroke="#84aaf0" stroke-width="0.77" stroke-opacity="0.7" stroke-linecap="round"/>
<line x1="92.1" y1="495.4" x2="100.4" y2="485.1" stroke="#a0c4f6" stroke-width="3.15" stroke-opacity="0.7" stroke-linecap="round"/>
<line x1="83.1" y1="482.5" x2="104.4" y2="457.0" stroke="#84aaf0" stroke-width="1.15" stroke-opacity="0.7" stroke-linecap="round"/>
<line x1="90.9" y1="465.4" x2="104.2" y2="449.8" stroke="#7aa2ee" stroke-width="1.96" stroke-opacity="0.7" stroke-linecap="round"/>
<line x1="157.7" y1="484.4" x2="165.7" y2="471.6" stroke="#90b4f2" stroke-width="3.14" stroke-opacity="0.7" stroke-linecap="round"/>
<line x1="148.8" y1="504.7" x2="163.2" y2="481.6" stroke="#7aa2ee" stroke-width="1.54" stroke-opacity="0.7" stroke-linecap="round"/>
<line x1="86.6" y1="469.3" x2="107.2" y2="445.1" stroke="#7aa2ee" stroke-width="2.62" stroke-opacity="0.7" stroke-linecap="round"/>
<line x1="135.2" y1="487.1" x2="144.4" y2="475.0" stroke="#6a92ea" stroke-width="1.78" stroke-opacity="0.7" stroke-linecap="round"/>
<line x1="207.1" y1="456.9" x2="220.9" y2="433.2" stroke="#5a82e6" stroke-width="1.99" stroke-opacity="0.7" stroke-linecap="round"/>
<line x1="122.2" y1="438.4" x2="142.9" y2="413.5" stroke="#d4e8fd" stroke-width="2.47" stroke-opacity="0.7" stroke-linecap="round"/>
<line x1="154.6" y1="501.4" x2="176.2" y2="465.7" stroke="#a0c4f6" stroke-width="0.83" stroke-opacity="0.7" stroke-linecap="round"/>
<line x1="206.6" y1="467.4" x2="217.9" y2="447.3" stroke="#5a82e6" stroke-width="2.83" stroke-opacity="0.7" stroke-linecap="round"/>
<line x1="183.6" y1="454.3" x2="189.6" y2="444.4" stroke="#c8e0fc" stroke-width="3.09" stroke-opacity="0.7" stroke-linecap="round"/>
<line x1="201.2" y1="456.7" x2="214.1" y2="435.9" stroke="#c8e0fc" stroke-width="2.61" stroke-opacity="0.7" stroke-linecap="round"/>
<line x1="133.8" y1="491.2" x2="142.4" y2="479.9" stroke="#d4e8fd" stroke-width="1.09" stroke-opacity="0.7" stroke-linecap="round"/>
<line x1="201.8" y1="465.3" x2="208.8" y2="453.4" stroke="#7aa2ee" stroke-width="1.41" stroke-opacity="0.7" stroke-linecap="round"/>
<line x1="123.4" y1="489.8" x2="145.4" y2="461.5" stroke="#7aa2ee" stroke-width="1.25" stroke-opacity="0.7" stroke-linecap="round"/>
<line x1="177.5" y1="509.7" x2="184.3" y2="497.8" stroke="#d4e8fd" stroke-width="1.42" stroke-opacity="0.7" stroke-linecap="round"/>
<line x1="146.9" y1="497.7" x2="161.5" y2="475.3" stroke="#e0eefe" stroke-width="0.92" stroke-opacity="0.7" stroke-linecap="round"/>
<line x1="170.1" y1="469.0" x2="185.0" y2="445.1" stroke="#7aa2ee" stroke-width="2.82" stroke-opacity="0.7" stroke-linecap="round"/>
<line x1="143.6" y1="442.3" x2="151.3" y2="432.6" stroke="#e0eefe" stroke-width="1.26" stroke-opacity="0.7" stroke-linecap="round"/>
<line x1="141.8" y1="468.0" x2="150.5" y2="456.7" stroke="#6a92ea" stroke-width="1.55" stroke-opacity="0.7" stroke-linecap="round"/>
<line x1="124.7" y1="463.7" x2="153.0" y2="428.3" stroke="#84aaf0" stroke-width="2.62" stroke-opacity="0.7" stroke-linecap="round"/>
<line x1="125.0" y1="454.3" x2="133.2" y2="444.2" stroke="#a0c4f6" stroke-width="2.51" stroke-opacity="0.7" stroke-linecap="round"/>
<line x1="179.9" y1="452.8" x2="187.2" y2="441.0" stroke="#e0eefe" stroke-width="0.73" stroke-opacity="0.7" stroke-linecap="round"/>
<line x1="128.4" y1="453.6" x2="139.6" y2="439.7" stroke="#7aa2ee" stroke-width="1.00" stroke-opacity="0.7" stroke-linecap="round"/>
<line x1="186.1" y1="449.4" x2="204.2" y2="419.5" stroke="#c8e0fc" stroke-width="3.12" stroke-opacity="0.7" stroke-linecap="round"/>
<line x1="94.5" y1="452.0" x2="124.2" y2="417.6" stroke="#6a92ea" stroke-width="3.26" stroke-opacity="0.7" stroke-linecap="round"/>
<line x1="171.5" y1="468.6" x2="178.1" y2="457.9" stroke="#c8e0fc" stroke-width="1.24" stroke-opacity="0.7" stroke-linecap="round"/>
<line x1="158.8" y1="482.7" x2="182.5" y2="445.0" stroke="#7aa2ee" stroke-width="1.96" stroke-opacity="0.7" stroke-linecap="round"/>
<line x1="151.4" y1="474.8" x2="164.4" y2="457.3" stroke="#bcd8fa" stroke-width="1.08" stroke-opacity="0.7" stroke-linecap="round"/>
<line x1="89.6" y1="446.2" x2="114.0" y2="419.6" stroke="#90b4f2" stroke-width="1.22" stroke-opacity="0.7" stroke-linecap="round"/>
<line x1="70.1" y1="457.1" x2="94.9" y2="430.9" stroke="#bcd8fa" stroke-width="1.31" stroke-opacity="0.7" stroke-linecap="round"/>
<line x1="68.5" y1="483.2" x2="84.9" y2="464.1" stroke="#bcd8fa" stroke-width="1.62" stroke-opacity="0.7" stroke-linecap="round"/>
<line x1="195.6" y1="448.4" x2="203.0" y2="437.7" stroke="#c8e0fc" stroke-width="2.76" stroke-opacity="0.7" stroke-linecap="round"/>
<line x1="173.5" y1="479.9" x2="184.5" y2="463.8" stroke="#a0c4f6" stroke-width="2.37" stroke-opacity="0.7" stroke-linecap="round"/>
<line x1="170.2" y1="463.7" x2="181.4" y2="445.9" stroke="#c8e0fc" stroke-width="2.47" stroke-opacity="0.7" stroke-linecap="round"/>
<line x1="128.0" y1="499.4" x2="140.2" y2="483.3" stroke="#d4e8fd" stroke-width="1.52" stroke-opacity="0.7" stroke-linecap="round"/>
<line x1="129.5" y1="464.5" x2="139.7" y2="451.6" stroke="#d4e8fd" stroke-width="2.81" stroke-opacity="0.7" stroke-linecap="round"/>
<line x1="183.1" y1="466.6" x2="190.9" y2="455.6" stroke="#5a82e6" stroke-width="3.12" stroke-opacity="0.7" stroke-linecap="round"/>
<line x1="134.5" y1="478.3" x2="150.6" y2="457.5" stroke="#90b4f2" stroke-width="2.24" stroke-opacity="0.7" stroke-linecap="round"/>
<line x1="116.6" y1="434.1" x2="135.5" y2="412.0" stroke="#c8e0fc" stroke-width="2.22" stroke-opacity="0.7" stroke-linecap="round"/>
<line x1="79.7" y1="445.1" x2="106.5" y2="417.2" stroke="#90b4f2" stroke-width="1.36" stroke-opacity="0.7" stroke-linecap="round"/>
<line x1="153.9" y1="458.8" x2="166.2" y2="442.6" stroke="#d4e8fd" stroke-width="1.41" stroke-opacity="0.7" stroke-linecap="round"/>
<line x1="184.6" y1="486.5" x2="202.6" y2="456.9" stroke="#c8e0fc" stroke-width="3.12" stroke-opacity="0.7" stroke-linecap="round"/>
<line x1="143.4" y1="465.9" x2="160.8" y2="443.4" stroke="#6a92ea" stroke-width="1.15" stroke-opacity="0.7" stroke-linecap="round"/>
<g filter="url(#bl1)"><path d="M88,460 L98,445 L108,430 L118,414 L126,415 L114,432 L102,449 L93,464 Z" fill="#5b6fe2" opacity="0.7"/>
<path d="M75,466 L76,460 L80,445 L90,428 L100,417 L108.4,411.2 L118,414 L108,430 L98,445 L90,458 L84,467 Z" fill="url(#gsno)"/></g>
<path d="M210.5,438 L218,440 L209,458 L200,477 L191,496 L183,512 L179.5,517.5 L172.6,512 L173.8,510 L179,501.4 L186,489.2 L194.6,473.7 L203.3,454.6 Z" fill="#5654d4" opacity="0.9"/>
<path d="M162.8,497 L163.5,489 L164.3,473.7 L168.7,463.3 L177.3,449.4 L187.7,433.9 L194.6,423.5 L198.9,422.2 L202.5,423.5 L205.9,426.9 L210.2,436.4 L210.5,438 L203.3,454.6 L194.6,473.7 L186,489.2 L179,501.4 L173.8,510 L172.6,512 L167.5,509.6 Z" fill="url(#gdark)"/>
<path d="M156.5,506 L161,498 L165,493 L163.5,480 Z" fill="#3a3a9a" opacity="0.8"/>
</g>
<path d="M42.5,477.5 L49.2,481.5 L55.4,482.3 L63.0,487.0 L70.8,487.7 L80.0,489.2 L93.8,492.3 L104.6,494.6 L113.8,494.0 L125.0,496.5 L136.9,497.9 L150.0,501.5 L156.5,506.0 L161.0,498.0 L165.5,493.5 L167.5,509.6 L171.5,514.8 L186.0,520.0" fill="none" stroke="#3a4a8a" stroke-width="0.6" opacity="0.6"/>
<path d="M108.4,411.2 L112.7,412.1 L123.0,413.8 L140.8,417.3 L155.4,422.3 L178.5,427.0 L189.0,429.0 L196.7,422.0 L201.5,423.3 L206.3,427.1 L210.2,434.8 L220.8,437.7 L229.4,439.6" fill="none" stroke="#3a3a6a" stroke-width="0.7" opacity="0.8"/>
<text x="69" y="433" font-size="9" fill="#3e6e54" font-weight="bold" textLength="16.3" lengthAdjust="spacingAndGlyphs" stroke="#3e6e54">SnO</text>
<text x="142.8" y="421.3" font-size="8.4" fill="#1a1a1a" font-weight="bold" transform="rotate(10 142.8 421.3)" textLength="36.8" lengthAdjust="spacingAndGlyphs">metallic Sn</text>
<text x="154" y="513.5" font-size="7.8" fill="#7a5040" font-weight="bold" transform="rotate(10 154 513.5)">SnO<tspan dy="2" font-size="5">2</tspan></text>
<text x="152.5" y="520.6" font-size="7.8" fill="#946e5c" transform="rotate(14.5 152.5 520.6)" textLength="37" lengthAdjust="spacingAndGlyphs">Ø ≈ 4–5 nm</text>
<text x="1.2" y="584.7" font-size="19" fill="#111" textLength="20.1" lengthAdjust="spacingAndGlyphs" stroke="#111">(c)</text>
<line x1="36.3" y1="652.5" x2="110.5" y2="591.0" stroke="#222" stroke-width="1.1"/>
<line x1="36.3" y1="652.5" x2="42.3" y2="716.7" stroke="#222" stroke-width="1.1"/>
<line x1="42.3" y1="716.7" x2="184.6" y2="761.7" stroke="#222" stroke-width="1.1"/>
<text x="35.8" y="652.8" font-size="6.6" fill="#333" text-anchor="end">−1.550</text>
<line x1="45.6" y1="644.8" x2="46.1" y2="646.8" stroke="#222" stroke-width="0.8"/>
<line x1="54.8" y1="637.1" x2="55.4" y2="640.1" stroke="#222" stroke-width="0.9"/>
<text x="54.6" y="637.0" font-size="6.6" fill="#333" text-anchor="end">−1.225</text>
<line x1="64.1" y1="629.4" x2="64.6" y2="631.4" stroke="#222" stroke-width="0.8"/>
<line x1="73.4" y1="621.8" x2="74.0" y2="624.8" stroke="#222" stroke-width="0.9"/>
<text x="73.5" y="621.2" font-size="6.6" fill="#333" text-anchor="end">−0.900</text>
<line x1="82.7" y1="614.1" x2="83.2" y2="616.1" stroke="#222" stroke-width="0.8"/>
<line x1="92.0" y1="606.4" x2="92.5" y2="609.4" stroke="#222" stroke-width="0.9"/>
<text x="92.4" y="605.5" font-size="6.6" fill="#333" text-anchor="end">−0.575</text>
<line x1="101.2" y1="598.7" x2="101.7" y2="600.7" stroke="#222" stroke-width="0.8"/>
<line x1="110.5" y1="591.0" x2="111.1" y2="594.0" stroke="#222" stroke-width="0.9"/>
<text x="111.2" y="589.7" font-size="6.6" fill="#333" text-anchor="end">−0.250</text>
<line x1="41.5" y1="707.9" x2="45.0" y2="707.9" stroke="#222" stroke-width="1"/>
<text x="39.0" y="710.4" font-size="7" fill="#333" text-anchor="end">0</text>
<line x1="39.5" y1="686.7" x2="43.0" y2="686.7" stroke="#222" stroke-width="1"/>
<text x="37.0" y="689.2" font-size="7" fill="#333" text-anchor="end">200</text>
<line x1="37.5" y1="665.4" x2="41.0" y2="665.4" stroke="#222" stroke-width="1"/>
<text x="35.0" y="667.9" font-size="7" fill="#333" text-anchor="end">400</text>
<line x1="40.5" y1="697.3" x2="42.5" y2="697.3" stroke="#222" stroke-width="0.8"/>
<line x1="38.5" y1="676.0" x2="40.5" y2="676.0" stroke="#222" stroke-width="0.8"/>
<line x1="56.5" y1="721.2" x2="56.7" y2="719.0" stroke="#222" stroke-width="0.8"/>
<text x="42.8" y="726.0" font-size="7.2" fill="#333" text-anchor="middle">200</text>
<line x1="70.8" y1="725.7" x2="71.1" y2="722.2" stroke="#222" stroke-width="1"/>
<line x1="85.0" y1="730.2" x2="85.2" y2="728.0" stroke="#222" stroke-width="0.8"/>
<text x="68.8" y="735.3" font-size="7.2" fill="#333" text-anchor="middle">300</text>
<line x1="99.2" y1="734.7" x2="99.5" y2="731.2" stroke="#222" stroke-width="1"/>
<line x1="113.5" y1="739.2" x2="113.7" y2="737.0" stroke="#222" stroke-width="0.8"/>
<text x="97.2" y="744.6" font-size="7.2" fill="#333" text-anchor="middle">400</text>
<line x1="127.7" y1="743.7" x2="128.0" y2="740.2" stroke="#222" stroke-width="1"/>
<line x1="141.9" y1="748.2" x2="142.1" y2="746.0" stroke="#222" stroke-width="0.8"/>
<text x="125.7" y="753.9" font-size="7.2" fill="#333" text-anchor="middle">500</text>
<line x1="156.1" y1="752.7" x2="156.4" y2="749.2" stroke="#222" stroke-width="1"/>
<line x1="170.4" y1="757.2" x2="170.6" y2="755.0" stroke="#222" stroke-width="0.8"/>
<text x="154.1" y="763.2" font-size="7.2" fill="#333" text-anchor="middle">600</text>
<line x1="184.6" y1="761.7" x2="184.9" y2="758.2" stroke="#222" stroke-width="1"/>
<text x="185.1" y="772.5" font-size="7.2" fill="#333" text-anchor="middle">700</text>
<text x="21.6" y="687.4" font-size="7" fill="#444" text-anchor="middle" transform="rotate(-90 21.6 687.4)" textLength="49" lengthAdjust="spacingAndGlyphs">Raman Intensity</text>
<text x="98" y="758.7" font-size="6.6" fill="#333" text-anchor="middle" transform="rotate(18.5 98 758.7)">Raman Shift / cm<tspan dy="-2.5" font-size="4.5">−1</tspan></text>
<text x="57.2" y="601.0999999999999" font-size="6.8" fill="#333" text-anchor="middle" transform="rotate(-39.6 57.2 601.0999999999999)" textLength="95" lengthAdjust="spacingAndGlyphs">Electrode Potential vs. Ag/AgCl / V</text>
<line x1="191.8" y1="751.4000000000001" x2="231.5" y2="673.7" stroke="#222" stroke-width="1.1"/>
<path d="M233.8,669.2 L229.2,675.2 L234,677.5 Z" fill="#222"/>
<text x="199.5" y="752.7" font-size="7.2" fill="#333" transform="rotate(-61.5 199.5 752.7)">Direction of Potential Scan</text>
<defs><clipPath id="cc"><path d="M42.2,707.0 L43.7,710.2 L53.0,712.3 L76.2,717.0 L99.2,722.7 L122.3,728.5 L145.4,735.4 L165.0,743.0 L183.8,748.8 L232.8,663.4 L225.6,656.1 L214.0,641.7 L205.4,630.2 L199.6,626.7 L193.8,628.7 L185.2,633.1 L173.6,637.4 L159.2,641.7 L147.7,646.0 L136.1,641.7 L127.5,640.3 L110.2,637.4 L100.4,643.8 L94.6,645.4 L87.7,659.2 L76.2,668.5 L71.5,678.5 L64.6,682.3 L58.0,692.9 Z"/></clipPath><linearGradient id="gblue" x1="0" y1="0" x2="0" y2="1"><stop offset="0" stop-color="#3e50dc"/><stop offset="0.45" stop-color="#5a74e4" stop-opacity="0.85"/><stop offset="1" stop-color="#8aa6ec" stop-opacity="0"/></linearGradient><linearGradient id="gpink" x1="0" y1="0" x2="0" y2="1"><stop offset="0" stop-color="#e4d0ee"/><stop offset="0.6" stop-color="#f0e6f6"/><stop offset="1" stop-color="#eaf0fc" stop-opacity="0.5"/></linearGradient><filter id="bl3" x="-30%" y="-30%" width="160%" height="160%"><feGaussianBlur stdDeviation="3"/></filter></defs>
<path d="M42.2,707.0 L43.7,710.2 L53.0,712.3 L76.2,717.0 L99.2,722.7 L122.3,728.5 L145.4,735.4 L165.0,743.0 L183.8,748.8 L232.8,663.4 L225.6,656.1 L214.0,641.7 L205.4,630.2 L199.6,626.7 L193.8,628.7 L185.2,633.1 L173.6,637.4 L159.2,641.7 L147.7,646.0 L136.1,641.7 L127.5,640.3 L110.2,637.4 L100.4,643.8 L94.6,645.4 L87.7,659.2 L76.2,668.5 L71.5,678.5 L64.6,682.3 L58.0,692.9 Z" fill="#a6c2f0"/>
<g clip-path="url(#cc)">
<path d="M172,683 L232.8,663.4 L200,760 L150,745 Z" fill="#dce8fa" opacity="0.45"/>
<line x1="41.1" y1="710.3" x2="103.0" y2="641.3" stroke="#7292e4" stroke-width="1.12" stroke-opacity="0.7"/>
<line x1="41.3" y1="710.8" x2="103.3" y2="641.1" stroke="#c0d4f6" stroke-width="0.71" stroke-opacity="0.7"/>
<line x1="42.2" y1="712.3" x2="104.5" y2="640.2" stroke="#b6cef6" stroke-width="0.59" stroke-opacity="0.7"/>
<line x1="42.9" y1="712.5" x2="105.3" y2="639.7" stroke="#dce8fc" stroke-width="0.51" stroke-opacity="0.7"/>
<line x1="43.8" y1="712.7" x2="106.7" y2="638.8" stroke="#86a6ea" stroke-width="0.57" stroke-opacity="0.7"/>
<line x1="44.8" y1="713.0" x2="107.9" y2="637.9" stroke="#dce8fc" stroke-width="0.79" stroke-opacity="0.7"/>
<line x1="45.3" y1="713.1" x2="108.5" y2="637.5" stroke="#ffffff" stroke-width="0.75" stroke-opacity="0.7"/>
<line x1="45.7" y1="713.2" x2="109.2" y2="637.1" stroke="#86a6ea" stroke-width="0.91" stroke-opacity="0.7"/>
<line x1="46.8" y1="713.5" x2="110.6" y2="636.1" stroke="#c0d4f6" stroke-width="0.65" stroke-opacity="0.7"/>
<line x1="47.6" y1="713.7" x2="111.7" y2="635.4" stroke="#c0d4f6" stroke-width="1.03" stroke-opacity="0.7"/>
<line x1="48.1" y1="713.8" x2="112.4" y2="635.2" stroke="#c0d4f6" stroke-width="0.70" stroke-opacity="0.7"/>
<line x1="49.2" y1="714.1" x2="113.8" y2="635.5" stroke="#c0d4f6" stroke-width="0.56" stroke-opacity="0.7"/>
<line x1="49.7" y1="714.2" x2="114.4" y2="635.6" stroke="#dce8fc" stroke-width="0.91" stroke-opacity="0.7"/>
<line x1="50.4" y1="714.4" x2="115.4" y2="635.7" stroke="#9ab8f0" stroke-width="0.63" stroke-opacity="0.7"/>
<line x1="51.0" y1="714.5" x2="116.1" y2="635.9" stroke="#b6cef6" stroke-width="0.97" stroke-opacity="0.7"/>
<line x1="51.9" y1="714.7" x2="117.4" y2="636.1" stroke="#c0d4f6" stroke-width="0.58" stroke-opacity="0.7"/>
<line x1="52.4" y1="714.8" x2="118.0" y2="636.2" stroke="#86a6ea" stroke-width="0.90" stroke-opacity="0.7"/>
<line x1="53.6" y1="715.0" x2="119.7" y2="636.5" stroke="#7292e4" stroke-width="1.07" stroke-opacity="0.7"/>
<line x1="54.0" y1="715.1" x2="120.2" y2="636.5" stroke="#b6cef6" stroke-width="1.13" stroke-opacity="0.7"/>
<line x1="54.9" y1="715.3" x2="121.3" y2="636.7" stroke="#dce8fc" stroke-width="0.88" stroke-opacity="0.7"/>
<line x1="55.4" y1="715.4" x2="122.1" y2="636.9" stroke="#c8dcf8" stroke-width="0.93" stroke-opacity="0.7"/>
<line x1="56.1" y1="715.5" x2="123.0" y2="637.0" stroke="#dce8fc" stroke-width="0.67" stroke-opacity="0.7"/>
<line x1="57.1" y1="715.7" x2="124.3" y2="637.2" stroke="#c0d4f6" stroke-width="0.57" stroke-opacity="0.7"/>
<line x1="57.7" y1="715.9" x2="125.1" y2="637.4" stroke="#dce8fc" stroke-width="1.18" stroke-opacity="0.7"/>
<line x1="58.3" y1="716.0" x2="125.9" y2="637.5" stroke="#ffffff" stroke-width="0.78" stroke-opacity="0.7"/>
<line x1="59.1" y1="716.1" x2="126.9" y2="637.7" stroke="#eef4fe" stroke-width="0.98" stroke-opacity="0.7"/>
<line x1="60.3" y1="716.4" x2="128.6" y2="637.9" stroke="#86a6ea" stroke-width="0.88" stroke-opacity="0.7"/>
<line x1="61.0" y1="716.5" x2="129.5" y2="638.1" stroke="#c8dcf8" stroke-width="0.74" stroke-opacity="0.7"/>
<line x1="61.8" y1="716.7" x2="130.4" y2="638.2" stroke="#ffffff" stroke-width="0.84" stroke-opacity="0.7"/>
<line x1="62.0" y1="716.7" x2="130.6" y2="638.3" stroke="#7292e4" stroke-width="0.83" stroke-opacity="0.7"/>
<line x1="62.8" y1="716.9" x2="131.4" y2="638.4" stroke="#dce8fc" stroke-width="1.17" stroke-opacity="0.7"/>
<line x1="63.6" y1="717.1" x2="132.1" y2="638.5" stroke="#c8dcf8" stroke-width="0.89" stroke-opacity="0.7"/>
<line x1="64.6" y1="717.3" x2="133.0" y2="638.7" stroke="#f4f8ff" stroke-width="0.89" stroke-opacity="0.7"/>
<line x1="65.1" y1="717.4" x2="133.5" y2="638.7" stroke="#c8dcf8" stroke-width="0.80" stroke-opacity="0.7"/>
<line x1="66.2" y1="717.6" x2="134.5" y2="638.9" stroke="#dce8fc" stroke-width="1.03" stroke-opacity="0.7"/>
<line x1="66.8" y1="717.7" x2="135.1" y2="639.0" stroke="#ffffff" stroke-width="1.07" stroke-opacity="0.7"/>
<line x1="67.7" y1="717.9" x2="135.9" y2="639.1" stroke="#ffffff" stroke-width="0.55" stroke-opacity="0.7"/>
<line x1="68.5" y1="718.1" x2="136.7" y2="639.2" stroke="#eef4fe" stroke-width="0.88" stroke-opacity="0.7"/>
<line x1="68.9" y1="718.1" x2="137.1" y2="639.3" stroke="#7292e4" stroke-width="1.04" stroke-opacity="0.7"/>
<line x1="69.7" y1="718.3" x2="137.8" y2="639.4" stroke="#f4f8ff" stroke-width="0.54" stroke-opacity="0.7"/>
<line x1="70.3" y1="718.4" x2="138.4" y2="639.6" stroke="#86a6ea" stroke-width="0.94" stroke-opacity="0.7"/>
<line x1="71.1" y1="718.6" x2="139.1" y2="639.9" stroke="#f4f8ff" stroke-width="1.01" stroke-opacity="0.7"/>
<line x1="71.9" y1="718.7" x2="139.8" y2="640.2" stroke="#9ab8f0" stroke-width="1.17" stroke-opacity="0.7"/>
<line x1="72.4" y1="718.9" x2="140.3" y2="640.3" stroke="#f4f8ff" stroke-width="0.98" stroke-opacity="0.7"/>
<line x1="73.2" y1="719.0" x2="141.1" y2="640.6" stroke="#f4f8ff" stroke-width="1.17" stroke-opacity="0.7"/>
<line x1="74.4" y1="719.2" x2="142.1" y2="641.0" stroke="#7292e4" stroke-width="0.50" stroke-opacity="0.7"/>
<line x1="74.9" y1="719.4" x2="142.6" y2="641.2" stroke="#9ab8f0" stroke-width="1.02" stroke-opacity="0.7"/>
<line x1="75.6" y1="719.5" x2="143.3" y2="641.5" stroke="#86a6ea" stroke-width="0.62" stroke-opacity="0.7"/>
<line x1="76.4" y1="719.7" x2="144.0" y2="641.7" stroke="#ffffff" stroke-width="1.17" stroke-opacity="0.7"/>
<line x1="77.1" y1="719.9" x2="144.7" y2="642.0" stroke="#7292e4" stroke-width="0.84" stroke-opacity="0.7"/>
<line x1="78.0" y1="720.1" x2="145.6" y2="642.3" stroke="#f4f8ff" stroke-width="1.00" stroke-opacity="0.7"/>
<line x1="78.5" y1="720.2" x2="146.0" y2="642.4" stroke="#f4f8ff" stroke-width="0.71" stroke-opacity="0.7"/>
<line x1="79.7" y1="720.5" x2="147.1" y2="642.9" stroke="#c8dcf8" stroke-width="0.66" stroke-opacity="0.7"/>
<line x1="79.9" y1="720.6" x2="147.3" y2="642.9" stroke="#dce8fc" stroke-width="0.76" stroke-opacity="0.7"/>
<line x1="80.6" y1="720.8" x2="148.0" y2="643.2" stroke="#dce8fc" stroke-width="0.92" stroke-opacity="0.7"/>
<line x1="81.5" y1="721.0" x2="148.8" y2="643.5" stroke="#b6cef6" stroke-width="0.79" stroke-opacity="0.7"/>
<line x1="82.6" y1="721.2" x2="149.8" y2="643.7" stroke="#7292e4" stroke-width="1.17" stroke-opacity="0.7"/>
<line x1="83.1" y1="721.4" x2="150.2" y2="643.6" stroke="#ffffff" stroke-width="0.53" stroke-opacity="0.7"/>
<line x1="84.1" y1="721.7" x2="151.2" y2="643.2" stroke="#dce8fc" stroke-width="1.03" stroke-opacity="0.7"/>
<line x1="84.9" y1="721.9" x2="151.9" y2="642.9" stroke="#f4f8ff" stroke-width="0.69" stroke-opacity="0.7"/>
<line x1="85.1" y1="721.9" x2="152.2" y2="642.8" stroke="#eef4fe" stroke-width="1.13" stroke-opacity="0.7"/>
<line x1="86.4" y1="722.3" x2="153.4" y2="642.3" stroke="#9ab8f0" stroke-width="0.85" stroke-opacity="0.7"/>
<line x1="86.7" y1="722.3" x2="153.6" y2="642.2" stroke="#dce8fc" stroke-width="1.19" stroke-opacity="0.7"/>
<line x1="87.5" y1="722.6" x2="154.4" y2="641.9" stroke="#dce8fc" stroke-width="0.51" stroke-opacity="0.7"/>
<line x1="88.1" y1="722.7" x2="154.9" y2="641.7" stroke="#c8dcf8" stroke-width="0.67" stroke-opacity="0.7"/>
<line x1="89.4" y1="723.1" x2="156.1" y2="641.2" stroke="#dce8fc" stroke-width="0.53" stroke-opacity="0.7"/>
<line x1="90.1" y1="723.2" x2="156.7" y2="641.0" stroke="#7292e4" stroke-width="0.64" stroke-opacity="0.7"/>
<line x1="90.7" y1="723.4" x2="157.3" y2="640.8" stroke="#c0d4f6" stroke-width="1.09" stroke-opacity="0.7"/>
<line x1="91.1" y1="723.5" x2="157.7" y2="640.6" stroke="#f4f8ff" stroke-width="0.78" stroke-opacity="0.7"/>
<line x1="92.2" y1="723.8" x2="158.8" y2="640.2" stroke="#7292e4" stroke-width="1.19" stroke-opacity="0.7"/>
<line x1="92.9" y1="724.0" x2="159.4" y2="639.9" stroke="#c0d4f6" stroke-width="0.62" stroke-opacity="0.7"/>
<line x1="93.9" y1="724.2" x2="160.3" y2="639.6" stroke="#9ab8f0" stroke-width="1.19" stroke-opacity="0.7"/>
<line x1="94.1" y1="724.3" x2="160.5" y2="639.5" stroke="#9ab8f0" stroke-width="1.15" stroke-opacity="0.7"/>
<line x1="95.0" y1="724.5" x2="161.3" y2="639.2" stroke="#7292e4" stroke-width="0.90" stroke-opacity="0.7"/>
<line x1="96.0" y1="724.8" x2="162.3" y2="638.9" stroke="#86a6ea" stroke-width="0.92" stroke-opacity="0.7"/>
<line x1="96.6" y1="725.0" x2="162.9" y2="638.7" stroke="#b6cef6" stroke-width="0.52" stroke-opacity="0.7"/>
<line x1="97.3" y1="725.1" x2="163.4" y2="638.5" stroke="#9ab8f0" stroke-width="1.10" stroke-opacity="0.7"/>
<line x1="97.9" y1="725.3" x2="164.1" y2="638.3" stroke="#ffffff" stroke-width="1.19" stroke-opacity="0.7"/>
<line x1="99.0" y1="725.6" x2="165.1" y2="638.0" stroke="#eef4fe" stroke-width="0.87" stroke-opacity="0.7"/>
<line x1="99.8" y1="725.8" x2="165.8" y2="637.8" stroke="#ffffff" stroke-width="0.96" stroke-opacity="0.7"/>
<line x1="100.3" y1="726.0" x2="166.3" y2="637.6" stroke="#eef4fe" stroke-width="1.02" stroke-opacity="0.7"/>
<line x1="101.3" y1="726.2" x2="167.2" y2="637.3" stroke="#7292e4" stroke-width="0.82" stroke-opacity="0.7"/>
<line x1="101.9" y1="726.4" x2="167.8" y2="637.2" stroke="#9ab8f0" stroke-width="0.75" stroke-opacity="0.7"/>
<line x1="102.9" y1="726.6" x2="168.7" y2="636.9" stroke="#7292e4" stroke-width="1.08" stroke-opacity="0.7"/>
<line x1="103.0" y1="726.7" x2="168.8" y2="636.8" stroke="#ffffff" stroke-width="0.75" stroke-opacity="0.7"/>
<line x1="103.9" y1="726.9" x2="169.6" y2="636.6" stroke="#f4f8ff" stroke-width="0.61" stroke-opacity="0.7"/>
<line x1="104.7" y1="727.1" x2="170.4" y2="636.3" stroke="#ffffff" stroke-width="0.54" stroke-opacity="0.7"/>
<line x1="105.4" y1="727.3" x2="171.1" y2="636.1" stroke="#ffffff" stroke-width="0.83" stroke-opacity="0.7"/>
<line x1="106.1" y1="727.5" x2="171.7" y2="635.9" stroke="#ffffff" stroke-width="0.76" stroke-opacity="0.7"/>
<line x1="107.3" y1="727.8" x2="172.8" y2="635.6" stroke="#86a6ea" stroke-width="0.97" stroke-opacity="0.7"/>
<line x1="107.8" y1="727.9" x2="173.2" y2="635.4" stroke="#9ab8f0" stroke-width="0.78" stroke-opacity="0.7"/>
<line x1="108.5" y1="728.1" x2="173.9" y2="635.2" stroke="#dce8fc" stroke-width="1.18" stroke-opacity="0.7"/>
<line x1="109.3" y1="728.3" x2="174.7" y2="635.0" stroke="#c0d4f6" stroke-width="0.94" stroke-opacity="0.7"/>
<line x1="110.2" y1="728.6" x2="175.5" y2="634.7" stroke="#9ab8f0" stroke-width="1.14" stroke-opacity="0.7"/>
<line x1="111.1" y1="728.8" x2="176.3" y2="634.4" stroke="#ffffff" stroke-width="1.19" stroke-opacity="0.7"/>
<line x1="111.5" y1="728.9" x2="176.7" y2="634.3" stroke="#86a6ea" stroke-width="0.77" stroke-opacity="0.7"/>
<line x1="112.2" y1="729.1" x2="177.3" y2="634.0" stroke="#86a6ea" stroke-width="1.02" stroke-opacity="0.7"/>
<line x1="113.0" y1="729.3" x2="177.9" y2="633.8" stroke="#b6cef6" stroke-width="1.18" stroke-opacity="0.7"/>
<line x1="113.9" y1="729.6" x2="178.7" y2="633.5" stroke="#7292e4" stroke-width="1.00" stroke-opacity="0.7"/>
<line x1="114.3" y1="729.7" x2="179.0" y2="633.3" stroke="#c8dcf8" stroke-width="1.03" stroke-opacity="0.7"/>
<line x1="115.5" y1="730.0" x2="180.0" y2="633.0" stroke="#dce8fc" stroke-width="0.88" stroke-opacity="0.7"/>
<line x1="115.8" y1="730.1" x2="180.3" y2="632.9" stroke="#c8dcf8" stroke-width="0.80" stroke-opacity="0.7"/>
<line x1="116.9" y1="730.4" x2="181.2" y2="632.5" stroke="#7292e4" stroke-width="0.58" stroke-opacity="0.7"/>
<line x1="117.2" y1="730.5" x2="181.5" y2="632.4" stroke="#f4f8ff" stroke-width="0.92" stroke-opacity="0.7"/>
<line x1="118.3" y1="730.7" x2="182.3" y2="632.0" stroke="#eef4fe" stroke-width="1.10" stroke-opacity="0.7"/>
<line x1="119.2" y1="731.0" x2="183.1" y2="631.7" stroke="#7292e4" stroke-width="0.69" stroke-opacity="0.7"/>
<line x1="119.6" y1="731.1" x2="183.5" y2="631.6" stroke="#dce8fc" stroke-width="1.14" stroke-opacity="0.7"/>
<line x1="120.8" y1="731.4" x2="184.4" y2="631.2" stroke="#f4f8ff" stroke-width="0.71" stroke-opacity="0.7"/>
<line x1="121.5" y1="731.7" x2="185.0" y2="631.0" stroke="#86a6ea" stroke-width="0.65" stroke-opacity="0.7"/>
<line x1="122.1" y1="731.8" x2="185.5" y2="630.8" stroke="#f4f8ff" stroke-width="0.61" stroke-opacity="0.7"/>
<line x1="122.9" y1="732.1" x2="186.2" y2="630.5" stroke="#9ab8f0" stroke-width="0.97" stroke-opacity="0.7"/>
<line x1="123.3" y1="732.2" x2="186.5" y2="630.4" stroke="#7292e4" stroke-width="1.18" stroke-opacity="0.7"/>
<line x1="124.0" y1="732.4" x2="187.1" y2="630.1" stroke="#c0d4f6" stroke-width="0.56" stroke-opacity="0.7"/>
<line x1="124.8" y1="732.7" x2="187.7" y2="629.8" stroke="#86a6ea" stroke-width="1.00" stroke-opacity="0.7"/>
<line x1="126.0" y1="733.1" x2="188.8" y2="629.2" stroke="#86a6ea" stroke-width="0.86" stroke-opacity="0.7"/>
<line x1="126.4" y1="733.2" x2="189.1" y2="629.1" stroke="#c0d4f6" stroke-width="0.80" stroke-opacity="0.7"/>
<line x1="127.3" y1="733.5" x2="189.9" y2="628.7" stroke="#86a6ea" stroke-width="1.11" stroke-opacity="0.7"/>
<line x1="127.8" y1="733.7" x2="190.3" y2="628.4" stroke="#c8dcf8" stroke-width="0.96" stroke-opacity="0.7"/>
<line x1="128.5" y1="733.9" x2="190.9" y2="628.1" stroke="#eef4fe" stroke-width="0.84" stroke-opacity="0.7"/>
<line x1="129.6" y1="734.2" x2="191.8" y2="627.6" stroke="#9ab8f0" stroke-width="0.68" stroke-opacity="0.7"/>
<line x1="130.5" y1="734.5" x2="192.5" y2="627.2" stroke="#c0d4f6" stroke-width="1.07" stroke-opacity="0.7"/>
<line x1="131.2" y1="734.7" x2="193.0" y2="626.9" stroke="#c0d4f6" stroke-width="1.03" stroke-opacity="0.7"/>
<line x1="131.7" y1="734.9" x2="193.5" y2="626.7" stroke="#86a6ea" stroke-width="0.95" stroke-opacity="0.7"/>
<line x1="132.3" y1="735.1" x2="194.0" y2="626.4" stroke="#86a6ea" stroke-width="0.75" stroke-opacity="0.7"/>
<line x1="133.3" y1="735.4" x2="194.8" y2="626.0" stroke="#f4f8ff" stroke-width="0.89" stroke-opacity="0.7"/>
<line x1="134.3" y1="735.7" x2="195.6" y2="625.5" stroke="#86a6ea" stroke-width="1.10" stroke-opacity="0.7"/>
<line x1="134.5" y1="735.8" x2="195.8" y2="625.5" stroke="#b6cef6" stroke-width="0.70" stroke-opacity="0.7"/>
<line x1="135.6" y1="736.1" x2="196.8" y2="625.1" stroke="#86a6ea" stroke-width="1.08" stroke-opacity="0.7"/>
<line x1="136.1" y1="736.3" x2="197.1" y2="625.0" stroke="#c8dcf8" stroke-width="0.60" stroke-opacity="0.7"/>
<line x1="136.8" y1="736.5" x2="197.7" y2="624.8" stroke="#c0d4f6" stroke-width="0.97" stroke-opacity="0.7"/>
<line x1="137.5" y1="736.7" x2="198.3" y2="624.6" stroke="#ffffff" stroke-width="1.03" stroke-opacity="0.7"/>
<line x1="138.3" y1="737.0" x2="199.0" y2="624.3" stroke="#9ab8f0" stroke-width="0.87" stroke-opacity="0.7"/>
<line x1="139.3" y1="737.3" x2="199.8" y2="624.0" stroke="#c0d4f6" stroke-width="0.92" stroke-opacity="0.7"/>
<line x1="140.2" y1="737.6" x2="200.6" y2="623.7" stroke="#eef4fe" stroke-width="1.09" stroke-opacity="0.7"/>
<line x1="140.6" y1="737.7" x2="200.9" y2="623.6" stroke="#c0d4f6" stroke-width="0.57" stroke-opacity="0.7"/>
<line x1="141.5" y1="738.0" x2="201.7" y2="623.7" stroke="#9ab8f0" stroke-width="0.58" stroke-opacity="0.7"/>
<line x1="142.2" y1="738.2" x2="202.2" y2="624.0" stroke="#c8dcf8" stroke-width="0.64" stroke-opacity="0.7"/>
<line x1="143.0" y1="738.4" x2="202.9" y2="624.4" stroke="#b6cef6" stroke-width="1.04" stroke-opacity="0.7"/>
<line x1="143.5" y1="738.6" x2="203.3" y2="624.7" stroke="#eef4fe" stroke-width="0.60" stroke-opacity="0.7"/>
<line x1="144.6" y1="738.9" x2="204.2" y2="625.2" stroke="#ffffff" stroke-width="0.82" stroke-opacity="0.7"/>
<line x1="145.0" y1="739.1" x2="204.6" y2="625.5" stroke="#f4f8ff" stroke-width="1.06" stroke-opacity="0.7"/>
<line x1="145.9" y1="739.4" x2="205.3" y2="625.9" stroke="#c0d4f6" stroke-width="0.91" stroke-opacity="0.7"/>
<line x1="147.0" y1="739.9" x2="206.3" y2="626.5" stroke="#9ab8f0" stroke-width="1.02" stroke-opacity="0.7"/>
<line x1="147.3" y1="740.0" x2="206.5" y2="626.6" stroke="#f4f8ff" stroke-width="0.76" stroke-opacity="0.7"/>
<line x1="147.9" y1="740.2" x2="207.0" y2="627.0" stroke="#86a6ea" stroke-width="0.81" stroke-opacity="0.7"/>
<line x1="148.7" y1="740.5" x2="207.7" y2="627.8" stroke="#7292e4" stroke-width="0.74" stroke-opacity="0.7"/>
<line x1="149.5" y1="740.8" x2="208.4" y2="628.8" stroke="#b6cef6" stroke-width="0.71" stroke-opacity="0.7"/>
<line x1="150.6" y1="741.2" x2="209.3" y2="630.0" stroke="#dce8fc" stroke-width="1.05" stroke-opacity="0.7"/>
<line x1="151.0" y1="741.3" x2="209.6" y2="630.4" stroke="#f4f8ff" stroke-width="0.97" stroke-opacity="0.7"/>
<line x1="151.9" y1="741.7" x2="210.3" y2="631.4" stroke="#86a6ea" stroke-width="0.62" stroke-opacity="0.7"/>
<line x1="152.9" y1="742.1" x2="211.2" y2="632.6" stroke="#c8dcf8" stroke-width="0.52" stroke-opacity="0.7"/>
<line x1="153.7" y1="742.3" x2="211.8" y2="633.5" stroke="#b6cef6" stroke-width="0.99" stroke-opacity="0.7"/>
<line x1="154.0" y1="742.4" x2="212.0" y2="633.8" stroke="#b6cef6" stroke-width="1.16" stroke-opacity="0.7"/>
<line x1="155.0" y1="742.8" x2="212.9" y2="635.0" stroke="#9ab8f0" stroke-width="0.79" stroke-opacity="0.7"/>
<line x1="155.5" y1="743.0" x2="213.2" y2="635.4" stroke="#7292e4" stroke-width="0.87" stroke-opacity="0.7"/>
<line x1="156.7" y1="743.4" x2="214.2" y2="636.8" stroke="#c0d4f6" stroke-width="0.90" stroke-opacity="0.7"/>
<line x1="157.3" y1="743.6" x2="214.6" y2="637.4" stroke="#f4f8ff" stroke-width="0.78" stroke-opacity="0.7"/>
<line x1="158.1" y1="743.9" x2="215.3" y2="638.3" stroke="#c0d4f6" stroke-width="0.69" stroke-opacity="0.7"/>
<line x1="158.8" y1="744.2" x2="215.9" y2="639.0" stroke="#9ab8f0" stroke-width="1.07" stroke-opacity="0.7"/>
<line x1="159.7" y1="744.5" x2="216.5" y2="639.9" stroke="#7292e4" stroke-width="0.88" stroke-opacity="0.7"/>
<line x1="160.4" y1="744.8" x2="217.1" y2="640.6" stroke="#dce8fc" stroke-width="0.75" stroke-opacity="0.7"/>
<line x1="161.2" y1="745.1" x2="217.7" y2="641.4" stroke="#ffffff" stroke-width="0.97" stroke-opacity="0.7"/>
<line x1="161.9" y1="745.3" x2="218.3" y2="642.1" stroke="#7292e4" stroke-width="0.62" stroke-opacity="0.7"/>
<line x1="162.2" y1="745.4" x2="218.5" y2="642.4" stroke="#c0d4f6" stroke-width="0.66" stroke-opacity="0.7"/>
<line x1="163.5" y1="745.9" x2="219.5" y2="643.7" stroke="#ffffff" stroke-width="1.13" stroke-opacity="0.7"/>
<line x1="164.2" y1="746.1" x2="220.0" y2="644.3" stroke="#c0d4f6" stroke-width="0.57" stroke-opacity="0.7"/>
<line x1="164.8" y1="746.3" x2="220.5" y2="645.0" stroke="#7292e4" stroke-width="0.68" stroke-opacity="0.7"/>
<line x1="165.7" y1="746.6" x2="221.2" y2="645.9" stroke="#eef4fe" stroke-width="0.98" stroke-opacity="0.7"/>
<line x1="166.5" y1="746.8" x2="221.9" y2="646.7" stroke="#9ab8f0" stroke-width="0.84" stroke-opacity="0.7"/>
<line x1="166.9" y1="746.9" x2="222.1" y2="647.0" stroke="#ffffff" stroke-width="0.74" stroke-opacity="0.7"/>
<line x1="167.7" y1="747.1" x2="222.8" y2="647.9" stroke="#c0d4f6" stroke-width="0.80" stroke-opacity="0.7"/>
<line x1="168.6" y1="747.4" x2="223.5" y2="648.8" stroke="#ffffff" stroke-width="1.13" stroke-opacity="0.7"/>
<line x1="169.3" y1="747.6" x2="224.0" y2="649.4" stroke="#c8dcf8" stroke-width="0.55" stroke-opacity="0.7"/>
<line x1="169.7" y1="747.7" x2="224.4" y2="649.9" stroke="#9ab8f0" stroke-width="0.58" stroke-opacity="0.7"/>
<line x1="170.7" y1="748.0" x2="225.1" y2="650.9" stroke="#9ab8f0" stroke-width="0.75" stroke-opacity="0.7"/>
<line x1="171.2" y1="748.1" x2="225.6" y2="651.4" stroke="#b6cef6" stroke-width="0.73" stroke-opacity="0.7"/>
<line x1="172.2" y1="748.4" x2="226.4" y2="652.4" stroke="#dce8fc" stroke-width="1.14" stroke-opacity="0.7"/>
<line x1="173.3" y1="748.7" x2="227.2" y2="653.4" stroke="#eef4fe" stroke-width="1.10" stroke-opacity="0.7"/>
<line x1="173.9" y1="748.9" x2="227.6" y2="653.9" stroke="#c0d4f6" stroke-width="1.02" stroke-opacity="0.7"/>
<line x1="174.3" y1="749.0" x2="228.0" y2="654.3" stroke="#f4f8ff" stroke-width="0.53" stroke-opacity="0.7"/>
<line x1="175.3" y1="749.3" x2="228.8" y2="655.1" stroke="#9ab8f0" stroke-width="1.01" stroke-opacity="0.7"/>
<line x1="176.2" y1="749.6" x2="229.4" y2="655.8" stroke="#dce8fc" stroke-width="0.88" stroke-opacity="0.7"/>
<line x1="176.8" y1="749.7" x2="229.9" y2="656.3" stroke="#86a6ea" stroke-width="0.59" stroke-opacity="0.7"/>
<line x1="177.2" y1="749.9" x2="230.2" y2="656.6" stroke="#b6cef6" stroke-width="1.14" stroke-opacity="0.7"/>
<line x1="178.4" y1="750.2" x2="231.2" y2="657.6" stroke="#dce8fc" stroke-width="1.05" stroke-opacity="0.7"/>
<line x1="179.0" y1="750.4" x2="231.6" y2="658.1" stroke="#9ab8f0" stroke-width="0.96" stroke-opacity="0.7"/>
<line x1="179.5" y1="750.5" x2="232.1" y2="658.5" stroke="#86a6ea" stroke-width="0.70" stroke-opacity="0.7"/>
<line x1="180.6" y1="750.9" x2="232.9" y2="659.5" stroke="#eef4fe" stroke-width="0.58" stroke-opacity="0.7"/>
<line x1="181.5" y1="751.1" x2="233.6" y2="660.2" stroke="#c0d4f6" stroke-width="1.12" stroke-opacity="0.7"/>
<line x1="181.7" y1="751.2" x2="233.7" y2="660.3" stroke="#7292e4" stroke-width="0.68" stroke-opacity="0.7"/>
<line x1="122.1" y1="718.2" x2="143.1" y2="686.8" stroke="#ffffff" stroke-width="0.95" stroke-opacity="0.7" stroke-linecap="round"/>
<line x1="106.2" y1="674.7" x2="136.7" y2="639.4" stroke="#86a6ea" stroke-width="1.42" stroke-opacity="0.7" stroke-linecap="round"/>
<line x1="95.8" y1="670.9" x2="109.1" y2="655.5" stroke="#7292e4" stroke-width="1.38" stroke-opacity="0.7" stroke-linecap="round"/>
<line x1="83.9" y1="705.2" x2="106.7" y2="678.9" stroke="#7292e4" stroke-width="1.05" stroke-opacity="0.7" stroke-linecap="round"/>
<line x1="148.9" y1="659.6" x2="165.4" y2="637.7" stroke="#eef4fe" stroke-width="1.47" stroke-opacity="0.7" stroke-linecap="round"/>
<line x1="72.7" y1="681.5" x2="83.8" y2="668.1" stroke="#86a6ea" stroke-width="0.50" stroke-opacity="0.7" stroke-linecap="round"/>
<line x1="131.0" y1="675.9" x2="137.9" y2="667.1" stroke="#ffffff" stroke-width="1.24" stroke-opacity="0.7" stroke-linecap="round"/>
<line x1="165.4" y1="662.8" x2="186.6" y2="628.9" stroke="#eef4fe" stroke-width="0.79" stroke-opacity="0.7" stroke-linecap="round"/>
<line x1="155.0" y1="731.1" x2="162.6" y2="716.6" stroke="#eef4fe" stroke-width="0.61" stroke-opacity="0.7" stroke-linecap="round"/>
<line x1="220.6" y1="684.4" x2="235.2" y2="659.0" stroke="#dce8fc" stroke-width="1.06" stroke-opacity="0.7" stroke-linecap="round"/>
<line x1="136.0" y1="692.1" x2="162.2" y2="654.4" stroke="#86a6ea" stroke-width="1.42" stroke-opacity="0.7" stroke-linecap="round"/>
<line x1="126.4" y1="719.2" x2="140.2" y2="697.8" stroke="#c0d4f6" stroke-width="1.00" stroke-opacity="0.7" stroke-linecap="round"/>
<line x1="182.1" y1="696.7" x2="192.7" y2="677.0" stroke="#c0d4f6" stroke-width="1.11" stroke-opacity="0.7" stroke-linecap="round"/>
<line x1="82.1" y1="668.9" x2="109.5" y2="636.2" stroke="#f4f8ff" stroke-width="1.40" stroke-opacity="0.7" stroke-linecap="round"/>
<line x1="192.6" y1="711.1" x2="216.8" y2="668.1" stroke="#9ab8f0" stroke-width="1.02" stroke-opacity="0.7" stroke-linecap="round"/>
<line x1="93.4" y1="666.3" x2="119.7" y2="634.8" stroke="#b6cef6" stroke-width="1.18" stroke-opacity="0.7" stroke-linecap="round"/>
<line x1="170.1" y1="671.7" x2="182.7" y2="649.1" stroke="#eef4fe" stroke-width="0.95" stroke-opacity="0.7" stroke-linecap="round"/>
<line x1="133.3" y1="734.3" x2="140.8" y2="720.9" stroke="#b6cef6" stroke-width="0.92" stroke-opacity="0.7" stroke-linecap="round"/>
<line x1="155.4" y1="677.8" x2="183.0" y2="634.0" stroke="#eef4fe" stroke-width="1.11" stroke-opacity="0.7" stroke-linecap="round"/>
<line x1="173.8" y1="736.4" x2="183.2" y2="719.5" stroke="#c8dcf8" stroke-width="1.07" stroke-opacity="0.7" stroke-linecap="round"/>
<line x1="137.7" y1="680.5" x2="155.8" y2="655.6" stroke="#c8dcf8" stroke-width="0.91" stroke-opacity="0.7" stroke-linecap="round"/>
<line x1="95.2" y1="665.8" x2="121.1" y2="635.0" stroke="#86a6ea" stroke-width="0.86" stroke-opacity="0.7" stroke-linecap="round"/>
<line x1="198.2" y1="711.4" x2="210.9" y2="689.0" stroke="#f4f8ff" stroke-width="0.77" stroke-opacity="0.7" stroke-linecap="round"/>
<line x1="81.0" y1="697.1" x2="109.7" y2="664.2" stroke="#f4f8ff" stroke-width="0.67" stroke-opacity="0.7" stroke-linecap="round"/>
<line x1="199.9" y1="690.6" x2="224.3" y2="646.7" stroke="#dce8fc" stroke-width="0.67" stroke-opacity="0.7" stroke-linecap="round"/>
<line x1="143.6" y1="738.5" x2="153.6" y2="719.5" stroke="#f4f8ff" stroke-width="0.95" stroke-opacity="0.7" stroke-linecap="round"/>
<line x1="166.5" y1="660.0" x2="176.0" y2="645.0" stroke="#86a6ea" stroke-width="1.12" stroke-opacity="0.7" stroke-linecap="round"/>
<line x1="154.8" y1="675.6" x2="165.4" y2="659.2" stroke="#f4f8ff" stroke-width="1.36" stroke-opacity="0.7" stroke-linecap="round"/>
<line x1="131.4" y1="689.4" x2="139.5" y2="678.3" stroke="#dce8fc" stroke-width="0.87" stroke-opacity="0.7" stroke-linecap="round"/>
<line x1="178.1" y1="695.4" x2="192.8" y2="667.8" stroke="#c8dcf8" stroke-width="1.30" stroke-opacity="0.7" stroke-linecap="round"/>
<line x1="204.2" y1="667.6" x2="219.3" y2="640.1" stroke="#b6cef6" stroke-width="1.43" stroke-opacity="0.7" stroke-linecap="round"/>
<line x1="85.9" y1="697.1" x2="109.6" y2="669.7" stroke="#7292e4" stroke-width="1.44" stroke-opacity="0.7" stroke-linecap="round"/>
<line x1="137.2" y1="718.8" x2="147.0" y2="702.3" stroke="#86a6ea" stroke-width="1.52" stroke-opacity="0.7" stroke-linecap="round"/>
<line x1="95.8" y1="654.7" x2="103.8" y2="645.0" stroke="#c8dcf8" stroke-width="1.09" stroke-opacity="0.7" stroke-linecap="round"/>
<line x1="95.5" y1="686.2" x2="110.7" y2="668.5" stroke="#b6cef6" stroke-width="1.14" stroke-opacity="0.7" stroke-linecap="round"/>
<line x1="75.2" y1="694.1" x2="84.8" y2="682.9" stroke="#eef4fe" stroke-width="1.50" stroke-opacity="0.7" stroke-linecap="round"/>
<line x1="77.1" y1="698.8" x2="90.6" y2="683.4" stroke="#b6cef6" stroke-width="1.25" stroke-opacity="0.7" stroke-linecap="round"/>
<line x1="178.7" y1="730.8" x2="196.1" y2="699.7" stroke="#ffffff" stroke-width="1.07" stroke-opacity="0.7" stroke-linecap="round"/>
<line x1="87.4" y1="709.5" x2="115.9" y2="676.6" stroke="#c0d4f6" stroke-width="1.26" stroke-opacity="0.7" stroke-linecap="round"/>
<line x1="147.3" y1="702.5" x2="170.8" y2="662.4" stroke="#7292e4" stroke-width="1.55" stroke-opacity="0.7" stroke-linecap="round"/>
<line x1="65.1" y1="718.1" x2="74.7" y2="707.0" stroke="#c8dcf8" stroke-width="1.13" stroke-opacity="0.7" stroke-linecap="round"/>
<line x1="154.5" y1="744.8" x2="178.7" y2="699.8" stroke="#9ab8f0" stroke-width="0.52" stroke-opacity="0.7" stroke-linecap="round"/>
<line x1="153.2" y1="656.6" x2="168.8" y2="635.6" stroke="#ffffff" stroke-width="0.83" stroke-opacity="0.7" stroke-linecap="round"/>
<line x1="170.9" y1="671.3" x2="191.4" y2="634.2" stroke="#ffffff" stroke-width="0.77" stroke-opacity="0.7" stroke-linecap="round"/>
<line x1="100.0" y1="710.9" x2="116.2" y2="691.0" stroke="#ffffff" stroke-width="1.51" stroke-opacity="0.7" stroke-linecap="round"/>
<line x1="100.6" y1="717.1" x2="124.5" y2="686.3" stroke="#ffffff" stroke-width="0.65" stroke-opacity="0.7" stroke-linecap="round"/>
<line x1="90.2" y1="723.6" x2="114.2" y2="693.9" stroke="#f4f8ff" stroke-width="0.58" stroke-opacity="0.7" stroke-linecap="round"/>
<line x1="216.9" y1="675.9" x2="229.7" y2="653.3" stroke="#9ab8f0" stroke-width="1.25" stroke-opacity="0.7" stroke-linecap="round"/>
<line x1="56.1" y1="697.9" x2="67.6" y2="684.4" stroke="#86a6ea" stroke-width="0.66" stroke-opacity="0.7" stroke-linecap="round"/>
<line x1="138.5" y1="709.6" x2="147.1" y2="695.5" stroke="#c0d4f6" stroke-width="0.75" stroke-opacity="0.7" stroke-linecap="round"/>
<line x1="85.0" y1="714.9" x2="97.3" y2="700.7" stroke="#ffffff" stroke-width="1.02" stroke-opacity="0.7" stroke-linecap="round"/>
<line x1="185.2" y1="662.1" x2="205.6" y2="623.2" stroke="#b6cef6" stroke-width="1.03" stroke-opacity="0.7" stroke-linecap="round"/>
<line x1="61.9" y1="701.7" x2="85.0" y2="673.8" stroke="#9ab8f0" stroke-width="1.22" stroke-opacity="0.7" stroke-linecap="round"/>
<line x1="133.4" y1="670.2" x2="158.3" y2="639.3" stroke="#c8dcf8" stroke-width="0.78" stroke-opacity="0.7" stroke-linecap="round"/>
<line x1="167.7" y1="679.9" x2="192.7" y2="633.9" stroke="#f4f8ff" stroke-width="0.62" stroke-opacity="0.7" stroke-linecap="round"/>
<line x1="173.4" y1="657.6" x2="192.0" y2="626.2" stroke="#b6cef6" stroke-width="0.71" stroke-opacity="0.7" stroke-linecap="round"/>
<line x1="143.0" y1="708.2" x2="172.4" y2="658.6" stroke="#b6cef6" stroke-width="0.63" stroke-opacity="0.7" stroke-linecap="round"/>
<line x1="108.0" y1="676.5" x2="135.9" y2="644.3" stroke="#86a6ea" stroke-width="0.75" stroke-opacity="0.7" stroke-linecap="round"/>
<line x1="115.6" y1="696.0" x2="139.7" y2="665.4" stroke="#f4f8ff" stroke-width="0.74" stroke-opacity="0.7" stroke-linecap="round"/>
<line x1="47.5" y1="706.8" x2="73.1" y2="677.0" stroke="#dce8fc" stroke-width="1.22" stroke-opacity="0.7" stroke-linecap="round"/>
<line x1="158.2" y1="666.3" x2="167.4" y2="652.4" stroke="#ffffff" stroke-width="1.38" stroke-opacity="0.7" stroke-linecap="round"/>
<line x1="117.5" y1="680.5" x2="144.8" y2="648.9" stroke="#b6cef6" stroke-width="0.73" stroke-opacity="0.7" stroke-linecap="round"/>
<line x1="49.3" y1="712.2" x2="64.0" y2="694.1" stroke="#ffffff" stroke-width="1.04" stroke-opacity="0.7" stroke-linecap="round"/>
<line x1="76.1" y1="710.8" x2="87.2" y2="698.0" stroke="#c8dcf8" stroke-width="0.81" stroke-opacity="0.7" stroke-linecap="round"/>
<line x1="102.6" y1="690.7" x2="128.4" y2="660.9" stroke="#86a6ea" stroke-width="0.61" stroke-opacity="0.7" stroke-linecap="round"/>
<line x1="168.2" y1="723.2" x2="184.2" y2="693.6" stroke="#c0d4f6" stroke-width="0.89" stroke-opacity="0.7" stroke-linecap="round"/>
<line x1="206.2" y1="701.6" x2="227.6" y2="664.0" stroke="#86a6ea" stroke-width="1.22" stroke-opacity="0.7" stroke-linecap="round"/>
<line x1="172.8" y1="692.4" x2="188.4" y2="662.5" stroke="#c8dcf8" stroke-width="0.51" stroke-opacity="0.7" stroke-linecap="round"/>
<line x1="199.2" y1="721.5" x2="205.0" y2="711.4" stroke="#c8dcf8" stroke-width="1.07" stroke-opacity="0.7" stroke-linecap="round"/>
<line x1="113.9" y1="715.6" x2="139.5" y2="680.0" stroke="#9ab8f0" stroke-width="1.25" stroke-opacity="0.7" stroke-linecap="round"/>
<line x1="105.9" y1="728.9" x2="120.0" y2="709.2" stroke="#86a6ea" stroke-width="1.02" stroke-opacity="0.7" stroke-linecap="round"/>
<line x1="142.0" y1="659.8" x2="158.6" y2="639.2" stroke="#86a6ea" stroke-width="0.80" stroke-opacity="0.7" stroke-linecap="round"/>
<line x1="101.2" y1="686.4" x2="116.1" y2="669.2" stroke="#86a6ea" stroke-width="1.28" stroke-opacity="0.7" stroke-linecap="round"/>
<line x1="60.1" y1="701.1" x2="82.7" y2="673.5" stroke="#c0d4f6" stroke-width="1.53" stroke-opacity="0.7" stroke-linecap="round"/>
<line x1="176.1" y1="662.3" x2="191.1" y2="635.1" stroke="#dce8fc" stroke-width="0.99" stroke-opacity="0.7" stroke-linecap="round"/>
<line x1="95.3" y1="656.2" x2="103.9" y2="645.7" stroke="#9ab8f0" stroke-width="0.85" stroke-opacity="0.7" stroke-linecap="round"/>
<line x1="194.6" y1="729.0" x2="216.2" y2="691.3" stroke="#b6cef6" stroke-width="0.84" stroke-opacity="0.7" stroke-linecap="round"/>
<line x1="167.3" y1="746.4" x2="189.4" y2="706.4" stroke="#ffffff" stroke-width="1.13" stroke-opacity="0.7" stroke-linecap="round"/>
<line x1="168.8" y1="687.9" x2="180.1" y2="666.4" stroke="#ffffff" stroke-width="0.77" stroke-opacity="0.7" stroke-linecap="round"/>
<line x1="189.5" y1="676.0" x2="203.9" y2="649.1" stroke="#7292e4" stroke-width="0.76" stroke-opacity="0.7" stroke-linecap="round"/>
<line x1="125.5" y1="709.7" x2="146.7" y2="678.7" stroke="#86a6ea" stroke-width="0.85" stroke-opacity="0.7" stroke-linecap="round"/>
<line x1="106.7" y1="697.3" x2="118.9" y2="682.8" stroke="#86a6ea" stroke-width="0.73" stroke-opacity="0.7" stroke-linecap="round"/>
<line x1="193.6" y1="675.5" x2="215.4" y2="635.0" stroke="#eef4fe" stroke-width="1.02" stroke-opacity="0.7" stroke-linecap="round"/>
<line x1="110.1" y1="664.5" x2="132.0" y2="639.3" stroke="#dce8fc" stroke-width="0.62" stroke-opacity="0.7" stroke-linecap="round"/>
<line x1="145.4" y1="724.1" x2="155.4" y2="705.4" stroke="#7292e4" stroke-width="1.37" stroke-opacity="0.7" stroke-linecap="round"/>
<line x1="203.3" y1="678.7" x2="216.3" y2="655.1" stroke="#c0d4f6" stroke-width="1.00" stroke-opacity="0.7" stroke-linecap="round"/>
<line x1="141.3" y1="703.1" x2="167.7" y2="660.7" stroke="#7292e4" stroke-width="0.87" stroke-opacity="0.7" stroke-linecap="round"/>
<line x1="147.0" y1="659.2" x2="159.8" y2="642.6" stroke="#c8dcf8" stroke-width="0.88" stroke-opacity="0.7" stroke-linecap="round"/>
<line x1="144.6" y1="659.1" x2="161.1" y2="638.2" stroke="#9ab8f0" stroke-width="1.46" stroke-opacity="0.7" stroke-linecap="round"/>
<line x1="167.3" y1="700.8" x2="189.3" y2="658.9" stroke="#b6cef6" stroke-width="0.79" stroke-opacity="0.7" stroke-linecap="round"/>
<line x1="199.1" y1="705.6" x2="215.3" y2="677.0" stroke="#c8dcf8" stroke-width="1.30" stroke-opacity="0.7" stroke-linecap="round"/>
<line x1="107.2" y1="669.6" x2="126.1" y2="647.8" stroke="#9ab8f0" stroke-width="0.68" stroke-opacity="0.7" stroke-linecap="round"/>
<line x1="141.0" y1="705.9" x2="161.3" y2="672.8" stroke="#f4f8ff" stroke-width="1.03" stroke-opacity="0.7" stroke-linecap="round"/>
<line x1="149.1" y1="702.4" x2="172.1" y2="662.6" stroke="#f4f8ff" stroke-width="1.37" stroke-opacity="0.7" stroke-linecap="round"/>
<line x1="185.8" y1="702.1" x2="195.0" y2="685.3" stroke="#9ab8f0" stroke-width="1.36" stroke-opacity="0.7" stroke-linecap="round"/>
<line x1="67.5" y1="698.9" x2="85.1" y2="678.1" stroke="#eef4fe" stroke-width="0.67" stroke-opacity="0.7" stroke-linecap="round"/>
<line x1="104.6" y1="729.0" x2="120.7" y2="706.6" stroke="#9ab8f0" stroke-width="1.23" stroke-opacity="0.7" stroke-linecap="round"/>
<line x1="58.5" y1="700.3" x2="67.3" y2="689.5" stroke="#b6cef6" stroke-width="0.62" stroke-opacity="0.7" stroke-linecap="round"/>
<line x1="78.6" y1="670.6" x2="98.4" y2="647.7" stroke="#f4f8ff" stroke-width="0.67" stroke-opacity="0.7" stroke-linecap="round"/>
<line x1="184.8" y1="664.1" x2="206.0" y2="623.5" stroke="#c0d4f6" stroke-width="0.78" stroke-opacity="0.7" stroke-linecap="round"/>
<line x1="194.3" y1="713.5" x2="212.3" y2="681.7" stroke="#c8dcf8" stroke-width="1.53" stroke-opacity="0.7" stroke-linecap="round"/>
<line x1="166.5" y1="743.1" x2="174.5" y2="728.6" stroke="#7292e4" stroke-width="0.72" stroke-opacity="0.7" stroke-linecap="round"/>
<line x1="147.7" y1="692.5" x2="166.6" y2="662.1" stroke="#b6cef6" stroke-width="1.13" stroke-opacity="0.7" stroke-linecap="round"/>
<line x1="139.4" y1="731.4" x2="145.4" y2="720.5" stroke="#7292e4" stroke-width="1.15" stroke-opacity="0.7" stroke-linecap="round"/>
<line x1="102.1" y1="691.9" x2="120.7" y2="670.4" stroke="#c8dcf8" stroke-width="1.36" stroke-opacity="0.7" stroke-linecap="round"/>
<line x1="175.6" y1="718.8" x2="196.6" y2="680.3" stroke="#ffffff" stroke-width="1.19" stroke-opacity="0.7" stroke-linecap="round"/>
<line x1="164.9" y1="672.0" x2="178.3" y2="649.3" stroke="#b6cef6" stroke-width="0.89" stroke-opacity="0.7" stroke-linecap="round"/>
<line x1="147.3" y1="727.7" x2="157.8" y2="707.9" stroke="#eef4fe" stroke-width="0.86" stroke-opacity="0.7" stroke-linecap="round"/>
<line x1="111.5" y1="713.5" x2="120.2" y2="701.8" stroke="#dce8fc" stroke-width="1.16" stroke-opacity="0.7" stroke-linecap="round"/>
<line x1="179.2" y1="698.9" x2="198.6" y2="662.7" stroke="#ffffff" stroke-width="0.88" stroke-opacity="0.7" stroke-linecap="round"/>
<path d="M145,650 L175,636 L199.6,626.7 L199,630 L190,646 L184,661 L177,677 L170,694 L160,700 L140,690 Z" fill="url(#gblue)" opacity="0.85" filter="url(#bl3)"/>
<path d="M199.6,626.7 L205.4,630.2 L214,641.7 L225.6,656.1 L232.8,663.4 L228,690 L210,705 L184,690 L184,661 L190,646 L199,630 Z" fill="url(#gpink)" opacity="0.85" filter="url(#bl3)"/>
<line x1="40.7" y1="709.5" x2="102.5" y2="641.7" stroke="#c8dcf8" stroke-width="0.78" stroke-opacity="0.35"/>
<line x1="43.3" y1="712.6" x2="105.9" y2="639.3" stroke="#c8dcf8" stroke-width="0.47" stroke-opacity="0.35"/>
<line x1="45.6" y1="713.2" x2="109.0" y2="637.2" stroke="#eef4fe" stroke-width="0.76" stroke-opacity="0.35"/>
<line x1="48.0" y1="713.8" x2="112.1" y2="635.2" stroke="#c8dcf8" stroke-width="0.73" stroke-opacity="0.35"/>
<line x1="50.3" y1="714.3" x2="115.2" y2="635.7" stroke="#7292e4" stroke-width="0.66" stroke-opacity="0.35"/>
<line x1="52.8" y1="714.9" x2="118.5" y2="636.3" stroke="#c8dcf8" stroke-width="0.46" stroke-opacity="0.35"/>
<line x1="56.2" y1="715.5" x2="123.0" y2="637.0" stroke="#7292e4" stroke-width="0.57" stroke-opacity="0.35"/>
<line x1="57.4" y1="715.8" x2="124.7" y2="637.3" stroke="#7292e4" stroke-width="0.58" stroke-opacity="0.35"/>
<line x1="61.2" y1="716.6" x2="129.7" y2="638.1" stroke="#eef4fe" stroke-width="0.76" stroke-opacity="0.35"/>
<line x1="62.5" y1="716.8" x2="131.1" y2="638.3" stroke="#c8dcf8" stroke-width="0.88" stroke-opacity="0.35"/>
<line x1="65.7" y1="717.5" x2="134.0" y2="638.8" stroke="#ffffff" stroke-width="0.47" stroke-opacity="0.35"/>
<line x1="66.7" y1="717.7" x2="135.0" y2="639.0" stroke="#7292e4" stroke-width="0.42" stroke-opacity="0.35"/>
<line x1="70.2" y1="718.4" x2="138.3" y2="639.6" stroke="#7292e4" stroke-width="0.73" stroke-opacity="0.35"/>
<line x1="71.6" y1="718.7" x2="139.6" y2="640.0" stroke="#7292e4" stroke-width="0.76" stroke-opacity="0.35"/>
<line x1="73.9" y1="719.1" x2="141.7" y2="640.9" stroke="#eef4fe" stroke-width="0.64" stroke-opacity="0.35"/>
<line x1="76.4" y1="719.7" x2="144.0" y2="641.7" stroke="#ffffff" stroke-width="0.57" stroke-opacity="0.35"/>
<line x1="79.0" y1="720.4" x2="146.5" y2="642.6" stroke="#ffffff" stroke-width="0.88" stroke-opacity="0.35"/>
<line x1="82.5" y1="721.2" x2="149.7" y2="643.8" stroke="#c8dcf8" stroke-width="0.79" stroke-opacity="0.35"/>
<line x1="83.6" y1="721.5" x2="150.7" y2="643.4" stroke="#eef4fe" stroke-width="0.68" stroke-opacity="0.35"/>
<line x1="87.2" y1="722.5" x2="154.0" y2="642.1" stroke="#ffffff" stroke-width="0.45" stroke-opacity="0.35"/>
<line x1="88.1" y1="722.7" x2="154.9" y2="641.7" stroke="#ffffff" stroke-width="0.75" stroke-opacity="0.35"/>
<line x1="90.3" y1="723.3" x2="157.0" y2="640.9" stroke="#7292e4" stroke-width="0.54" stroke-opacity="0.35"/>
<line x1="93.1" y1="724.0" x2="159.5" y2="639.9" stroke="#eef4fe" stroke-width="0.46" stroke-opacity="0.35"/>
<line x1="95.2" y1="724.6" x2="161.6" y2="639.1" stroke="#ffffff" stroke-width="0.62" stroke-opacity="0.35"/>
<line x1="98.7" y1="725.5" x2="164.8" y2="638.1" stroke="#c8dcf8" stroke-width="0.53" stroke-opacity="0.35"/>
<line x1="101.2" y1="726.2" x2="167.1" y2="637.4" stroke="#c8dcf8" stroke-width="0.88" stroke-opacity="0.35"/>
<line x1="102.3" y1="726.5" x2="168.2" y2="637.1" stroke="#eef4fe" stroke-width="0.76" stroke-opacity="0.35"/>
<line x1="105.9" y1="727.4" x2="171.5" y2="636.0" stroke="#7292e4" stroke-width="0.43" stroke-opacity="0.35"/>
<line x1="107.8" y1="727.9" x2="173.3" y2="635.4" stroke="#ffffff" stroke-width="0.83" stroke-opacity="0.35"/>
<line x1="110.9" y1="728.8" x2="176.1" y2="634.5" stroke="#7292e4" stroke-width="0.72" stroke-opacity="0.35"/>
<line x1="111.5" y1="728.9" x2="176.6" y2="634.3" stroke="#c8dcf8" stroke-width="0.64" stroke-opacity="0.35"/>
<line x1="115.3" y1="729.9" x2="179.8" y2="633.0" stroke="#7292e4" stroke-width="0.89" stroke-opacity="0.35"/>
<line x1="117.6" y1="730.6" x2="181.7" y2="632.3" stroke="#ffffff" stroke-width="0.64" stroke-opacity="0.35"/>
<line x1="120.0" y1="731.2" x2="183.7" y2="631.5" stroke="#7292e4" stroke-width="0.57" stroke-opacity="0.35"/>
<line x1="120.9" y1="731.5" x2="184.5" y2="631.2" stroke="#7292e4" stroke-width="0.69" stroke-opacity="0.35"/>
<line x1="124.1" y1="732.5" x2="187.2" y2="630.1" stroke="#c8dcf8" stroke-width="0.47" stroke-opacity="0.35"/>
<line x1="126.7" y1="733.3" x2="189.3" y2="628.9" stroke="#c8dcf8" stroke-width="0.86" stroke-opacity="0.35"/>
<line x1="129.7" y1="734.2" x2="191.8" y2="627.6" stroke="#eef4fe" stroke-width="0.87" stroke-opacity="0.35"/>
<line x1="132.0" y1="735.0" x2="193.8" y2="626.5" stroke="#eef4fe" stroke-width="0.68" stroke-opacity="0.35"/>
<line x1="133.8" y1="735.6" x2="195.2" y2="625.7" stroke="#7292e4" stroke-width="0.51" stroke-opacity="0.35"/>
<line x1="135.5" y1="736.1" x2="196.6" y2="625.2" stroke="#7292e4" stroke-width="0.55" stroke-opacity="0.35"/>
<line x1="139.0" y1="737.2" x2="199.6" y2="624.1" stroke="#ffffff" stroke-width="0.47" stroke-opacity="0.35"/>
<line x1="140.1" y1="737.5" x2="200.5" y2="623.8" stroke="#ffffff" stroke-width="0.77" stroke-opacity="0.35"/>
<line x1="144.0" y1="738.7" x2="203.7" y2="625.0" stroke="#7292e4" stroke-width="0.69" stroke-opacity="0.35"/>
<line x1="144.9" y1="739.1" x2="204.5" y2="625.4" stroke="#c8dcf8" stroke-width="0.77" stroke-opacity="0.35"/>
<line x1="147.4" y1="740.0" x2="206.5" y2="626.7" stroke="#eef4fe" stroke-width="0.59" stroke-opacity="0.35"/>
<line x1="149.9" y1="741.0" x2="208.7" y2="629.2" stroke="#7292e4" stroke-width="0.85" stroke-opacity="0.35"/>
<line x1="152.3" y1="741.8" x2="210.6" y2="631.9" stroke="#eef4fe" stroke-width="0.86" stroke-opacity="0.35"/>
<line x1="154.6" y1="742.7" x2="212.5" y2="634.5" stroke="#c8dcf8" stroke-width="0.42" stroke-opacity="0.35"/>
<line x1="157.6" y1="743.8" x2="214.9" y2="637.7" stroke="#ffffff" stroke-width="0.53" stroke-opacity="0.35"/>
<line x1="159.2" y1="744.3" x2="216.1" y2="639.4" stroke="#ffffff" stroke-width="0.51" stroke-opacity="0.35"/>
<line x1="161.3" y1="745.1" x2="217.8" y2="641.4" stroke="#7292e4" stroke-width="0.59" stroke-opacity="0.35"/>
<line x1="163.9" y1="746.0" x2="219.9" y2="644.1" stroke="#eef4fe" stroke-width="0.56" stroke-opacity="0.35"/>
<line x1="166.5" y1="746.8" x2="221.9" y2="646.7" stroke="#ffffff" stroke-width="0.46" stroke-opacity="0.35"/>
<line x1="168.7" y1="747.4" x2="223.6" y2="648.9" stroke="#eef4fe" stroke-width="0.84" stroke-opacity="0.35"/>
<line x1="172.0" y1="748.4" x2="226.2" y2="652.2" stroke="#7292e4" stroke-width="0.63" stroke-opacity="0.35"/>
<line x1="174.3" y1="749.0" x2="228.0" y2="654.3" stroke="#eef4fe" stroke-width="0.61" stroke-opacity="0.35"/>
<line x1="175.6" y1="749.4" x2="229.0" y2="655.3" stroke="#eef4fe" stroke-width="0.55" stroke-opacity="0.35"/>
<line x1="178.7" y1="750.3" x2="231.4" y2="657.9" stroke="#c8dcf8" stroke-width="0.89" stroke-opacity="0.35"/>
<line x1="180.7" y1="750.9" x2="233.0" y2="659.5" stroke="#ffffff" stroke-width="0.78" stroke-opacity="0.35"/>
<path d="M199,628 L190,646 L184,661 L177,677 L170,694 L164,708 L158,722 L146.4,740.6" fill="none" stroke="#555a68" stroke-width="0.8" opacity="0.75"/>
</g>
<path d="M42.2,707.0 L43.7,710.2 L53.0,712.3 L76.2,717.0 L99.2,722.7 L122.3,728.5 L145.4,735.4 L165.0,743.0 L183.8,748.8" fill="none" stroke="#3a4a8a" stroke-width="0.6" opacity="0.5"/>
<path d="M42.2,707.0 L58.0,692.9 L64.6,682.3 L71.5,678.5 L76.2,668.5 L87.7,659.2 L94.6,645.4 L100.4,643.8 L110.2,637.4 L127.5,640.3 L136.1,641.7 L147.7,646.0 L159.2,641.7 L173.6,637.4 L185.2,633.1 L193.8,628.7 L199.6,626.7 L205.4,630.2 L214.0,641.7 L225.6,656.1 L232.8,663.4" fill="none" stroke="#6a6a8a" stroke-width="0.7" opacity="0.8"/>
<text x="167.2" y="621" font-size="7.8" fill="#7a5040" font-weight="bold">SnO<tspan dy="2" font-size="5">2</tspan></text>
<text x="143.8" y="632.8" font-size="8.4" fill="#8a6e60" textLength="41" lengthAdjust="spacingAndGlyphs">Ø ≈ 2–3 nm</text>
<text x="90.8" y="722.5" font-size="8.6" fill="#1a2a5a" font-weight="bold" transform="rotate(15 90.8 722.5)" textLength="37.5" lengthAdjust="spacingAndGlyphs">metallic Sn</text>
</svg></body></html>
